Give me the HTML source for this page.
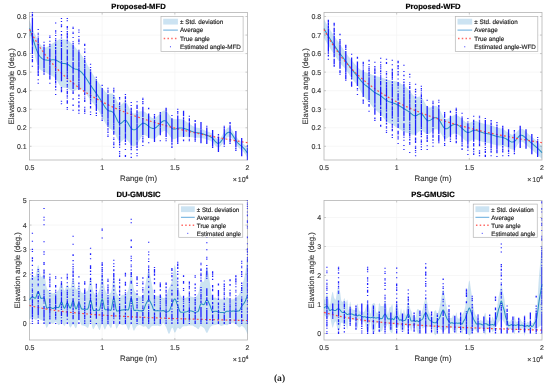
<!DOCTYPE html>
<html lang="en"><head><meta charset="utf-8"><title>Elevation angle estimation</title>
<style>html,body{margin:0;padding:0;background:#fff}svg{display:block}</style></head>
<body>
<svg width="550" height="387" viewBox="0 0 550 387" font-family="'Liberation Sans', Arial, Helvetica, sans-serif" shape-rendering="geometricPrecision" text-rendering="geometricPrecision">
<rect width="550" height="387" fill="#fff"/>
<g>
<clipPath id="c1"><rect x="29.1" y="12.1" width="218.65" height="148.3"/></clipPath><path d="M102.17 12.5V160M174.83 12.5V160M29.5 146.31H247.5M29.5 127.77H247.5M29.5 109.23H247.5M29.5 90.68H247.5M29.5 72.14H247.5M29.5 53.59H247.5M29.5 35.05H247.5M29.5 16.51H247.5" stroke="#f3f3f3" stroke-width="0.7" fill="none"/><rect x="29.5" y="12.5" width="218" height="147.5" fill="none" stroke="#b4b4b4" stroke-width="0.8"/><path d="M102.17 160v-2M102.17 12.5v2M174.83 160v-2M174.83 12.5v2M29.5 146.31h2M247.5 146.31h-2M29.5 127.77h2M247.5 127.77h-2M29.5 109.23h2M247.5 109.23h-2M29.5 90.68h2M247.5 90.68h-2M29.5 72.14h2M247.5 72.14h-2M29.5 53.59h2M247.5 53.59h-2M29.5 35.05h2M247.5 35.05h-2M29.5 16.51h2M247.5 16.51h-2" stroke="#b4b4b4" stroke-width="0.7" fill="none"/>
<polygon points="29.5,20.4 30.23,22.26 30.95,24.2 31.68,26.18 32.41,28.19 33.13,30.1 33.86,31.84 34.59,33.45 35.31,34.95 36.04,36.38 36.77,37.78 37.49,39.18 38.22,40.61 38.95,42 39.67,43.23 40.4,44.31 41.13,45.24 41.85,46.02 42.58,46.66 43.31,47.14 44.03,47.47 44.76,47.63 45.49,47.6 46.21,47.41 46.94,47.09 47.67,46.69 48.39,46.22 49.12,45.73 49.85,45.25 50.57,44.77 51.3,44.26 52.03,43.75 52.75,43.25 53.48,42.76 54.21,42.31 54.93,41.89 55.66,41.54 56.39,41.16 57.11,40.68 57.84,40.17 58.57,39.67 59.29,39.25 60.02,38.95 60.75,38.83 61.47,38.94 62.2,39.15 62.93,39.28 63.65,39.37 64.38,39.44 65.11,39.52 65.83,39.63 66.56,39.8 67.29,40.06 68.01,40.44 68.74,40.96 69.47,41.57 70.19,42.25 70.92,42.98 71.65,43.7 72.37,44.41 73.1,45.06 73.83,45.73 74.55,46.5 75.28,47.33 76.01,48.21 76.73,49.12 77.46,50.02 78.19,50.9 78.91,51.74 79.64,52.58 80.37,53.49 81.09,54.46 81.82,55.49 82.55,56.58 83.27,57.71 84,58.88 84.73,60.08 85.45,61.32 86.18,62.59 86.91,63.87 87.63,65.17 88.36,66.46 89.09,67.75 89.81,69.03 90.54,70.28 91.27,71.52 91.99,72.74 92.72,73.94 93.45,75.12 94.17,76.27 94.9,77.4 95.63,78.5 96.35,79.56 97.08,80.58 97.81,81.58 98.53,82.56 99.26,83.53 99.99,84.51 100.71,85.49 101.44,86.5 102.17,87.53 102.89,88.57 103.62,89.58 104.35,90.53 105.07,91.4 105.8,92.17 106.53,92.81 107.25,93.32 107.98,93.65 108.71,93.77 109.43,93.72 110.16,93.58 110.89,93.44 111.61,93.4 112.34,93.55 113.07,93.97 113.79,94.76 114.52,95.92 115.25,97.32 115.97,98.85 116.7,100.41 117.43,101.88 118.15,103.17 118.88,104.17 119.61,104.78 120.33,104.91 121.06,104.67 121.79,104.16 122.51,103.5 123.24,102.82 123.97,102.23 124.69,101.85 125.42,101.81 126.15,102.24 126.87,103.14 127.6,104.39 128.33,105.86 129.05,107.44 129.78,109.01 130.51,110.45 131.23,111.64 131.96,112.51 132.69,113.1 133.41,113.45 134.14,113.58 134.87,113.53 135.59,113.32 136.32,112.99 137.05,112.56 137.77,112.16 138.5,111.84 139.23,111.61 139.95,111.45 140.68,111.34 141.41,111.28 142.13,111.26 142.86,111.27 143.59,111.37 144.31,111.63 145.04,112.03 145.77,112.54 146.49,113.13 147.22,113.78 147.95,114.47 148.67,115.16 149.4,115.84 150.13,116.49 150.85,117.07 151.58,117.57 152.31,117.95 153.03,118.19 153.76,118.26 154.49,118.13 155.21,117.81 155.94,117.35 156.67,116.77 157.39,116.11 158.12,115.39 158.85,114.63 159.57,113.87 160.3,113.12 161.03,112.42 161.75,111.79 162.48,111.27 163.21,110.87 163.93,110.62 164.66,110.56 165.39,110.7 166.11,111.08 166.84,111.71 167.57,112.53 168.29,113.5 169.02,114.53 169.75,115.57 170.47,116.56 171.2,117.44 171.93,118.13 172.65,118.62 173.38,118.95 174.11,119.15 174.83,119.24 175.56,119.25 176.29,119.21 177.01,119.13 177.74,119.05 178.47,119.01 179.19,119 179.92,119.04 180.65,119.13 181.37,119.27 182.1,119.45 182.83,119.69 183.55,119.98 184.28,120.34 185.01,120.76 185.73,121.24 186.46,121.75 187.19,122.29 187.91,122.83 188.64,123.37 189.37,123.88 190.09,124.37 190.82,124.86 191.55,125.33 192.27,125.78 193,126.2 193.73,126.59 194.45,126.93 195.18,127.21 195.91,127.45 196.63,127.64 197.36,127.81 198.09,127.97 198.81,128.12 199.54,128.29 200.27,128.47 200.99,128.7 201.72,128.97 202.45,129.29 203.17,129.63 203.9,129.99 204.63,130.35 205.35,130.7 206.08,131.02 206.81,131.29 207.53,131.54 208.26,131.77 208.99,132.03 209.71,132.32 210.44,132.67 211.17,133.1 211.89,133.62 212.62,134.26 213.35,135.02 214.07,135.86 214.8,136.72 215.53,137.54 216.25,138.27 216.98,138.83 217.71,139.19 218.43,139.27 219.16,139.01 219.89,138.44 220.61,137.61 221.34,136.59 222.07,135.44 222.79,134.22 223.52,133 224.25,131.85 224.97,130.79 225.7,129.83 226.43,129 227.15,128.33 227.88,127.85 228.61,127.57 229.33,127.54 230.06,127.77 230.79,128.31 231.51,129.13 232.24,130.17 232.97,131.36 233.69,132.63 234.42,133.92 235.15,135.17 235.87,136.3 236.6,137.3 237.33,138.18 238.05,138.98 238.78,139.7 239.51,140.37 240.23,141.01 240.96,141.62 241.69,142.23 242.41,142.85 243.14,143.49 243.87,144.15 244.59,144.87 245.32,145.67 246.05,146.56 246.77,147.57 247.5,148.73 247.5,158 246.77,156.64 246.05,155.42 245.32,154.34 244.59,153.38 243.87,152.52 243.14,151.74 242.41,151.04 241.69,150.39 240.96,149.78 240.23,149.16 239.51,148.53 238.78,147.86 238.05,147.14 237.33,146.34 236.6,145.45 235.87,144.46 235.15,143.38 234.42,142.26 233.69,141.14 232.97,140.07 232.24,139.09 231.51,138.23 230.79,137.53 230.06,137.04 229.33,136.81 228.61,136.84 227.88,137.12 227.15,137.6 226.43,138.28 225.7,139.1 224.97,140.06 224.25,141.12 223.52,142.23 222.79,143.32 222.07,144.36 221.34,145.3 220.61,146.12 219.89,146.77 219.16,147.22 218.43,147.43 217.71,147.35 216.98,146.99 216.25,146.43 215.53,145.7 214.8,144.88 214.07,144.02 213.35,143.18 212.62,142.42 211.89,141.78 211.17,141.26 210.44,140.83 209.71,140.48 208.99,140.19 208.26,139.93 207.53,139.69 206.81,139.45 206.08,139.21 205.35,138.98 204.63,138.77 203.9,138.57 203.17,138.39 202.45,138.23 201.72,138.09 200.99,137.97 200.27,137.88 199.54,137.81 198.81,137.77 198.09,137.74 197.36,137.71 196.63,137.69 195.91,137.65 195.18,137.6 194.45,137.53 193.73,137.46 193,137.37 192.27,137.28 191.55,137.18 190.82,137.08 190.09,136.97 189.37,136.86 188.64,136.76 187.91,136.71 187.19,136.67 186.46,136.66 185.73,136.66 185.01,136.67 184.28,136.67 183.55,136.67 182.83,136.67 182.1,136.69 181.37,136.74 180.65,136.83 179.92,136.95 179.19,137.11 178.47,137.33 177.74,137.6 177.01,137.93 176.29,138.3 175.56,138.65 174.83,138.94 174.11,139.12 173.38,139.15 172.65,138.96 171.93,138.53 171.2,137.83 170.47,136.96 169.75,135.97 169.02,134.93 168.29,133.89 167.57,132.93 166.84,132.11 166.11,131.48 165.39,131.1 164.66,130.96 163.93,131.02 163.21,131.27 162.48,131.67 161.75,132.19 161.03,132.82 160.3,133.52 159.57,134.26 158.85,135.03 158.12,135.79 157.39,136.51 156.67,137.17 155.94,137.75 155.21,138.21 154.49,138.53 153.76,138.71 153.03,138.79 152.31,138.78 151.58,138.67 150.85,138.47 150.13,138.19 149.4,137.84 148.67,137.41 147.95,136.94 147.22,136.45 146.49,135.98 145.77,135.58 145.04,135.28 144.31,135.12 143.59,135.14 142.86,135.37 142.13,135.93 141.41,136.83 140.68,137.97 139.95,139.26 139.23,140.61 138.5,141.93 137.77,143.12 137.05,144.09 136.32,144.84 135.59,145.43 134.87,145.86 134.14,146.1 133.41,146.14 132.69,145.99 131.96,145.61 131.23,145.02 130.51,144.22 129.78,143.32 129.05,142.36 128.33,141.4 127.6,140.52 126.87,139.77 126.15,139.2 125.42,138.9 124.69,138.94 123.97,139.32 123.24,139.91 122.51,140.59 121.79,141.24 121.06,141.76 120.33,142 119.61,141.86 118.88,141.26 118.15,140.26 117.43,138.97 116.7,137.49 115.97,135.94 115.25,134.41 114.52,133.01 113.79,131.85 113.07,130.95 112.34,130.23 111.61,129.64 110.89,129.14 110.16,128.67 109.43,128.2 108.71,127.67 107.98,127.03 107.25,126.22 106.53,125.21 105.8,124.05 105.07,122.77 104.35,121.41 103.62,120 102.89,118.59 102.17,117.2 101.44,115.85 100.71,114.53 99.99,113.23 99.26,111.97 98.53,110.75 97.81,109.57 97.08,108.44 96.35,107.37 95.63,106.36 94.9,105.41 94.17,104.49 93.45,103.59 92.72,102.71 91.99,101.81 91.27,100.9 90.54,99.95 89.81,98.97 89.09,97.98 88.36,96.98 87.63,95.98 86.91,95.01 86.18,94.08 85.45,93.18 84.73,92.35 84,91.59 83.27,90.91 82.55,90.31 81.82,89.81 81.09,89.41 80.37,89.1 79.64,88.91 78.91,88.83 78.19,88.92 77.46,89.21 76.73,89.62 76.01,90.09 75.28,90.53 74.55,90.89 73.83,91.09 73.1,91.05 72.37,90.84 71.65,90.54 70.92,90.19 70.19,89.8 69.47,89.39 68.74,88.99 68.01,88.61 67.29,88.27 66.56,88.01 65.83,87.84 65.11,87.73 64.38,87.65 63.65,87.58 62.93,87.49 62.2,87.36 61.47,87.16 60.75,86.69 60.02,85.85 59.29,84.73 58.57,83.44 57.84,82.08 57.11,80.76 56.39,79.57 55.66,78.63 54.93,77.9 54.21,77.28 53.48,76.76 52.75,76.31 52.03,75.92 51.3,75.57 50.57,75.24 49.85,74.92 49.12,74.56 48.39,74.13 47.67,73.67 46.94,73.19 46.21,72.72 45.49,72.28 44.76,71.89 44.03,71.58 43.31,71.33 42.58,71.05 41.85,70.72 41.13,70.28 40.4,69.68 39.67,68.9 38.95,67.88 38.22,66.57 37.49,64.86 36.77,62.7 36.04,60.2 35.31,57.45 34.59,54.55 33.86,51.61 33.13,48.72 32.41,45.99 31.68,43.4 30.95,40.91 30.23,38.54 29.5,36.35" fill="#0072bd" fill-opacity="0.2"/>
<polyline points="29.5,28.37 30.23,30.4 30.95,32.55 31.68,34.79 32.41,37.09 33.13,39.41 33.86,41.73 34.59,44 35.31,46.2 36.04,48.29 36.77,50.24 37.49,52.02 38.22,53.59 38.95,54.94 39.67,56.06 40.4,57 41.13,57.76 41.85,58.37 42.58,58.85 43.31,59.23 44.03,59.53 44.76,59.76 45.49,59.94 46.21,60.06 46.94,60.14 47.67,60.18 48.39,60.18 49.12,60.14 49.85,60.08 50.57,60 51.3,59.92 52.03,59.84 52.75,59.78 53.48,59.76 54.21,59.79 54.93,59.9 55.66,60.08 56.39,60.36 57.11,60.72 57.84,61.12 58.57,61.56 59.29,61.99 60.02,62.4 60.75,62.76 61.47,63.05 62.2,63.25 62.93,63.39 63.65,63.47 64.38,63.54 65.11,63.62 65.83,63.73 66.56,63.91 67.29,64.16 68.01,64.53 68.74,64.97 69.47,65.48 70.19,66.03 70.92,66.58 71.65,67.12 72.37,67.62 73.1,68.06 73.83,68.41 74.55,68.69 75.28,68.93 76.01,69.15 76.73,69.37 77.46,69.62 78.19,69.91 78.91,70.28 79.64,70.74 80.37,71.3 81.09,71.94 81.82,72.65 82.55,73.45 83.27,74.31 84,75.23 84.73,76.22 85.45,77.25 86.18,78.33 86.91,79.44 87.63,80.58 88.36,81.72 89.09,82.87 89.81,84 90.54,85.12 91.27,86.21 91.99,87.27 92.72,88.32 93.45,89.36 94.17,90.38 94.9,91.4 95.63,92.43 96.35,93.46 97.08,94.51 97.81,95.57 98.53,96.65 99.26,97.75 99.99,98.87 100.71,100.01 101.44,101.17 102.17,102.36 102.89,103.58 103.62,104.79 104.35,105.97 105.07,107.08 105.8,108.11 106.53,109.01 107.25,109.77 107.98,110.34 108.71,110.72 109.43,110.96 110.16,111.12 110.89,111.29 111.61,111.52 112.34,111.89 113.07,112.46 113.79,113.31 114.52,114.47 115.25,115.86 115.97,117.39 116.7,118.95 117.43,120.43 118.15,121.72 118.88,122.72 119.61,123.32 120.33,123.46 121.06,123.21 121.79,122.7 122.51,122.05 123.24,121.36 123.97,120.77 124.69,120.4 125.42,120.35 126.15,120.72 126.87,121.45 127.6,122.45 128.33,123.63 129.05,124.9 129.78,126.16 130.51,127.34 131.23,128.33 131.96,129.06 132.69,129.54 133.41,129.8 134.14,129.84 134.87,129.69 135.59,129.38 136.32,128.91 137.05,128.33 137.77,127.64 138.5,126.89 139.23,126.11 139.95,125.35 140.68,124.66 141.41,124.06 142.13,123.6 142.86,123.32 143.59,123.25 144.31,123.37 145.04,123.65 145.77,124.06 146.49,124.55 147.22,125.11 147.95,125.7 148.67,126.29 149.4,126.84 150.13,127.34 150.85,127.77 151.58,128.12 152.31,128.36 153.03,128.49 153.76,128.48 154.49,128.33 155.21,128.01 155.94,127.55 156.67,126.97 157.39,126.31 158.12,125.59 158.85,124.83 159.57,124.07 160.3,123.32 161.03,122.62 161.75,121.99 162.48,121.47 163.21,121.07 163.93,120.82 164.66,120.76 165.39,120.9 166.11,121.28 166.84,121.91 167.57,122.73 168.29,123.69 169.02,124.73 169.75,125.77 170.47,126.76 171.2,127.63 171.93,128.33 172.65,128.79 173.38,129.05 174.11,129.14 174.83,129.09 175.56,128.95 176.29,128.75 177.01,128.53 177.74,128.33 178.47,128.17 179.19,128.06 179.92,128 180.65,127.98 181.37,128.01 182.1,128.07 182.83,128.18 183.55,128.33 184.28,128.51 185.01,128.71 185.73,128.95 186.46,129.21 187.19,129.48 187.91,129.77 188.64,130.07 189.37,130.37 190.09,130.67 190.82,130.97 191.55,131.25 192.27,131.53 193,131.79 193.73,132.02 194.45,132.23 195.18,132.41 195.91,132.55 196.63,132.66 197.36,132.76 198.09,132.85 198.81,132.95 199.54,133.05 200.27,133.18 200.99,133.33 201.72,133.53 202.45,133.76 203.17,134.01 203.9,134.28 204.63,134.56 205.35,134.84 206.08,135.11 206.81,135.37 207.53,135.61 208.26,135.85 208.99,136.11 209.71,136.4 210.44,136.75 211.17,137.18 211.89,137.7 212.62,138.34 213.35,139.1 214.07,139.94 214.8,140.8 215.53,141.62 216.25,142.35 216.98,142.91 217.71,143.27 218.43,143.35 219.16,143.12 219.89,142.6 220.61,141.86 221.34,140.94 222.07,139.9 222.79,138.77 223.52,137.62 224.25,136.49 224.97,135.43 225.7,134.47 226.43,133.64 227.15,132.97 227.88,132.48 228.61,132.21 229.33,132.17 230.06,132.41 230.79,132.92 231.51,133.68 232.24,134.63 232.97,135.72 233.69,136.89 234.42,138.09 235.15,139.27 235.87,140.38 236.6,141.37 237.33,142.26 238.05,143.06 238.78,143.78 239.51,144.45 240.23,145.09 240.96,145.7 241.69,146.31 242.41,146.95 243.14,147.61 243.87,148.33 244.59,149.13 245.32,150.01 246.05,150.99 246.77,152.11 247.5,153.36" fill="none" stroke="#2a90c2" stroke-width="1.05" stroke-linejoin="round"/>
<polyline points="29.5,29.43 33.13,36.19 36.77,42.34 40.4,47.97 44.03,53.15 47.67,57.92 51.3,62.34 54.93,66.45 58.57,70.27 62.2,73.84 65.83,77.18 69.47,80.32 73.1,83.26 76.73,86.05 80.37,88.67 84,91.16 87.63,93.51 91.27,95.75 94.9,97.87 98.53,99.9 102.17,101.83 105.8,103.68 109.43,105.44 113.07,107.14 116.7,108.76 120.33,110.31 123.97,111.81 127.6,113.24 131.23,114.63 134.87,115.96 138.5,117.25 142.13,118.49 145.77,119.7 149.4,120.86 153.03,121.98 156.67,123.07 160.3,124.13 163.93,125.15 167.57,126.15 171.2,127.11 174.83,128.05 178.47,128.96 182.1,129.85 185.73,130.72 189.37,131.56 193,132.38 196.63,133.19 200.27,133.97 203.9,134.73 207.53,135.48 211.17,136.21 214.8,136.92 218.43,137.62 222.07,138.31 225.7,138.98 229.33,139.63 232.97,140.27 236.6,140.9 240.23,141.52 243.87,142.13 247.5,142.72" fill="none" stroke="#ff4d47" stroke-width="1.2" stroke-dasharray="1.8 2.3"/>
<path d="M32.41 12.25v1M32.41 14v2.5M32.41 17.5v14.75M32.41 32.75v13M32.41 46.25v7.75M32.41 55.25v1.25M32.41 57v1M32.41 59v3.25M32.41 65.75v1M38.22 29v1M38.22 32.75v1M38.22 34.25v1M38.22 36.5v1M38.22 38v5M38.22 43.5v21.5M38.22 65.25v4.75M38.22 70.25v3M38.22 73.5v2.5M38.22 79.25v1M38.22 82.75v1M44.03 41.75v1M44.03 44.5v1.5M44.03 46.5v21.75M44.03 68.75v1M44.03 70.25v1.75M44.03 72.5v1M44.03 73.75v1M49.85 35.5v1M49.85 37v1M49.85 40.75v1M49.85 43.75v1.75M49.85 46v1.25M49.85 48.5v8.75M49.85 57.5v8.25M49.85 66v9.5M49.85 75.75v3.75M49.85 82.75v1M55.66 22.5v1M55.66 30.25v1.5M55.66 32.5v1M55.66 35v1M55.66 38.25v1M55.66 39.75v1.25M55.66 41.5v1M55.66 43.5v2.5M55.66 47v2M55.66 49.75v5M55.66 55.25v11.75M55.66 67.5v4M55.66 72v1M55.66 73.25v7.25M55.66 81v2M55.66 83.5v1M55.66 85.75v2M55.66 89.25v1M55.66 94v1M61.47 18v1M61.47 21v1M61.47 24.25v1M61.47 25.5v1.75M61.47 31v1M61.47 34v1M61.47 35.25v1M61.47 37.5v1M61.47 40v1M61.47 41.5v3M61.47 44.75v2.25M61.47 48v12M61.47 60.5v2M61.47 62.75v18.5M61.47 87v1M61.47 88.25v1M61.47 89.5v2.75M61.47 100.75v1M61.47 103.25v1M67.29 18v1M67.29 20.25v1M67.29 26v2M67.29 28.5v1M67.29 31v1M67.29 32.5v2.5M67.29 35.25v2.75M67.29 38.5v1M67.29 40v1.5M67.29 42.5v1M67.29 46.25v1M67.29 49.5v5M67.29 55.5v5.25M67.29 61.5v10.25M67.29 72v1M67.29 73.25v1.5M67.29 75v2.5M67.29 77.75v1.25M67.29 80.5v1.5M67.29 84v1.75M67.29 86.25v1.25M67.29 89.25v1M67.29 91v3.25M67.29 95.25v1.5M67.29 97.5v1M67.29 100.25v3.5M67.29 107v1M67.29 108.75v1M73.1 26.75v1M73.1 28v1M73.1 31.75v1M73.1 33v1M73.1 37v1M73.1 41.25v1M73.1 43v1.5M73.1 45v4.25M73.1 49.5v8.25M73.1 58v2.75M73.1 62v11.5M73.1 74.75v6.5M73.1 81.75v7.25M73.1 90.5v1.25M73.1 92v2M73.1 98.25v1.5M73.1 104.5v1.5M73.1 109.75v1M78.91 29.5v1M78.91 31.75v1M78.91 36v1M78.91 38.75v1M78.91 40v2.25M78.91 43.25v1M78.91 49.75v1M78.91 51.25v10M78.91 61.5v6M78.91 67.75v10.75M78.91 78.75v2.25M78.91 81.5v2.25M78.91 84v6M78.91 94.5v2M78.91 98v1M78.91 101.25v2M78.91 104.75v2.75M78.91 109.5v1.75M78.91 112.75v1M84.73 43.75v2.25M84.73 48.5v1M84.73 50.75v1M84.73 52v1M84.73 56v1M84.73 57.75v1.75M84.73 60v3.25M84.73 64v2.75M84.73 67v1.5M84.73 69v22.5M84.73 92.25v3M84.73 96.5v1M84.73 98.25v1M84.73 99.75v2.25M84.73 106.75v1M84.73 108.75v1M84.73 110.25v1.75M84.73 112.75v1M90.54 63.75v1M90.54 67v1M90.54 69.25v1M90.54 70.5v1M90.54 72v12M90.54 84.25v10M90.54 94.5v3.5M90.54 98.5v2.25M90.54 101.25v1M90.54 102.5v1.75M90.54 106v2.5M90.54 111.5v1M90.54 114v1M96.35 76.75v1M96.35 79.25v1M96.35 80.75v16.25M96.35 97.5v5.5M96.35 103.25v7.75M96.35 112.5v1.5M96.35 115v1M102.17 84.75v1.25M102.17 88v26.25M102.17 114.75v1M102.17 116.25v1M102.17 118.5v1M102.17 120v1M107.98 87.75v1M107.98 89.75v1M107.98 91.25v1.5M107.98 94.25v24.5M107.98 119.25v1.75M107.98 121.25v4.25M107.98 125.75v1M107.98 128.25v1.5M107.98 130.5v1M107.98 132v1M107.98 134.5v1M107.98 136v1M113.79 87.75v1M113.79 89.5v1.75M113.79 91.5v1M113.79 95.25v1M113.79 97v1.75M113.79 99.75v3.25M113.79 103.75v19.5M113.79 123.5v2.25M113.79 126v3M113.79 129.25v1M113.79 131v3.75M113.79 137.5v1M113.79 139v1M113.79 141.75v1M113.79 143.25v2M113.79 146.75v1.25M119.61 97v1M119.61 98.25v1.25M119.61 102.25v3M119.61 106v1M119.61 107.5v1.5M119.61 109.75v14M119.61 124v1M119.61 125.25v1M119.61 126.75v9M119.61 136v4.75M119.61 141.25v2.25M119.61 144v1.5M119.61 146.75v1M119.61 151v1M119.61 152.75v1M119.61 154.75v1M119.61 156v1M125.42 94v1M125.42 96.25v3M125.42 100.25v2M125.42 103.25v5.5M125.42 109v3M125.42 112.25v11M125.42 123.5v9.25M125.42 133.25v5.5M125.42 139.25v2.75M125.42 143.25v1.5M125.42 149v1M125.42 155v2M131.23 102v1M131.23 105v1M131.23 107.75v3M131.23 111v4.5M131.23 116v29.75M131.23 146.5v2M131.23 149v1.25M131.23 153.25v1M131.23 156.75v1.25M137.05 101.25v1M137.05 104.75v4.25M137.05 110.25v3.25M137.05 113.75v10M137.05 124v16.5M137.05 140.75v1M137.05 142v3.5M137.05 145.75v2.25M137.05 149v1.5M137.05 153v1M137.05 155.25v1M142.86 97.75v1M142.86 99v1M142.86 101v1M142.86 102.5v1.75M142.86 106.75v10.5M142.86 118v17M142.86 135.75v1M142.86 137.5v2M142.86 140.25v2.25M142.86 145v1M148.67 107.75v1.5M148.67 113.5v24.5M148.67 142.25v1M154.49 114v1.25M154.49 115.75v2.25M154.49 118.25v1M154.49 120v22M160.3 112v1M160.3 113.25v1M160.3 114.5v12.5M160.3 127.25v8M160.3 140.25v1M166.11 107.75v4M166.11 112v9.5M166.11 121.75v15.25M166.11 138.25v1M166.11 140.25v1M171.93 115v1M171.93 118.25v24.25M171.93 143v1.75M171.93 145.75v1M171.93 147v1M177.74 108.75v1M177.74 111v1.75M177.74 113.25v1M177.74 115.5v26.5M177.74 142.25v1.75M183.55 110.75v5.25M183.55 116.75v1M183.55 118v1.25M183.55 119.5v17.5M183.55 139.5v1.75M189.37 115.75v1M189.37 118.25v3.25M189.37 122.25v15M189.37 138.75v1M189.37 140.25v1M195.18 120v2M195.18 123.25v15M195.18 138.5v2M195.18 140.75v1M200.99 122v7.5M200.99 129.75v13.5M206.81 125.75v1M206.81 127.5v16.5M212.62 130v16.75M212.62 147v1M218.43 134v1.5M218.43 136.5v15.5M224.25 125.75v1M224.25 127v1M224.25 128.25v16.5M224.25 145.75v1M230.06 122v2.25M230.06 125.25v17.25M230.06 143v1M235.87 131v16.25M235.87 147.75v1.75M235.87 150v1M241.69 138v18.25M247.5 145v2M247.5 147.5v12.75" stroke="#0c0cff" stroke-width="1.3" fill="none" opacity="0.92" clip-path="url(#c1)"/>
<g font-size="7" fill="#363636" stroke="#363636" stroke-width="0.13"><text x="26.7" y="148.81" text-anchor="end">0.1</text><text x="26.7" y="130.27" text-anchor="end">0.2</text><text x="26.7" y="111.73" text-anchor="end">0.3</text><text x="26.7" y="93.18" text-anchor="end">0.4</text><text x="26.7" y="74.64" text-anchor="end">0.5</text><text x="26.7" y="56.09" text-anchor="end">0.6</text><text x="26.7" y="37.55" text-anchor="end">0.7</text><text x="26.7" y="19.01" text-anchor="end">0.8</text><text x="29.5" y="170.2" text-anchor="middle">0.5</text><text x="102.17" y="170.2" text-anchor="middle">1</text><text x="174.83" y="170.2" text-anchor="middle">1.5</text><text x="247.5" y="170.2" text-anchor="middle">2</text><text x="248.5" y="181.6" text-anchor="end">×<tspan dx="0.9">10</tspan><tspan dy="-3" font-size="5.2">4</tspan></text></g><g font-size="7.85" fill="#363636" stroke="#363636" stroke-width="0.13" text-anchor="middle"><text x="138.5" y="181">Range (m)</text><text transform="translate(13.7 86.25) rotate(-90)">Elavation angle (deg.)</text></g><text x="138.5" y="9.3" font-size="7.65" font-weight="bold" fill="#000" stroke="#000" stroke-width="0.2" text-anchor="middle">Proposed-MFD</text><rect x="161" y="16.6" width="82.1" height="34.9" fill="#fff" stroke="#b4b4b4" stroke-width="0.7"/><rect x="163.2" y="18.75" width="14.7" height="5.8" fill="#cce3f2"/><path d="M163.2 30.1h14.7" stroke="#5aa5da" stroke-width="0.95"/><path d="M163.7 38.45h14.7" stroke="#ff6b66" stroke-width="1.4" stroke-dasharray="1.5 2.25"/><rect x="169.95" y="46.35" width="1" height="0.9" fill="#22f"/><g font-size="6.3" fill="#242424" stroke="#242424" stroke-width="0.16"><text transform="translate(180 24) scale(1.0 1)">± Std. deviation</text><text transform="translate(180 32.35) scale(1.0 1)">Average</text><text transform="translate(180 40.7) scale(1.0 1)">True angle</text><text transform="translate(180 49.05) scale(1.0 1)">Estimated angle-MFD</text></g>
</g>
<g>
<clipPath id="c2"><rect x="323.6" y="12.1" width="218.65" height="148.3"/></clipPath><path d="M396.67 12.5V160M469.33 12.5V160M324 146.31H542M324 127.77H542M324 109.23H542M324 90.68H542M324 72.14H542M324 53.59H542M324 35.05H542M324 16.51H542" stroke="#f3f3f3" stroke-width="0.7" fill="none"/><rect x="324" y="12.5" width="218" height="147.5" fill="none" stroke="#b4b4b4" stroke-width="0.8"/><path d="M396.67 160v-2M396.67 12.5v2M469.33 160v-2M469.33 12.5v2M324 146.31h2M542 146.31h-2M324 127.77h2M542 127.77h-2M324 109.23h2M542 109.23h-2M324 90.68h2M542 90.68h-2M324 72.14h2M542 72.14h-2M324 53.59h2M542 53.59h-2M324 35.05h2M542 35.05h-2M324 16.51h2M542 16.51h-2" stroke="#b4b4b4" stroke-width="0.7" fill="none"/>
<polygon points="324,19.29 324.73,20.62 325.45,21.92 326.18,23.2 326.91,24.45 327.63,25.68 328.36,26.89 329.09,28.08 329.81,29.25 330.54,30.4 331.27,31.54 331.99,32.67 332.72,33.78 333.45,34.88 334.17,35.98 334.9,37.06 335.63,38.14 336.35,39.21 337.08,40.26 337.81,41.3 338.53,42.33 339.26,43.33 339.99,44.32 340.71,45.33 341.44,46.39 342.17,47.48 342.89,48.58 343.62,49.69 344.35,50.78 345.07,51.84 345.8,52.85 346.53,53.83 347.25,54.79 347.98,55.73 348.71,56.66 349.43,57.58 350.16,58.49 350.89,59.38 351.61,60.27 352.34,61.14 353.07,61.99 353.79,62.83 354.52,63.66 355.25,64.49 355.97,65.31 356.7,66.12 357.43,66.95 358.15,67.72 358.88,68.39 359.61,68.98 360.33,69.5 361.06,69.97 361.79,70.4 362.51,70.81 363.24,71.21 363.97,71.59 364.69,71.91 365.42,72.19 366.15,72.45 366.87,72.69 367.6,72.93 368.33,73.17 369.05,73.44 369.78,73.73 370.51,74.04 371.23,74.36 371.96,74.69 372.69,75.01 373.41,75.32 374.14,75.6 374.87,75.85 375.59,76.06 376.32,76.25 377.05,76.42 377.77,76.59 378.5,76.75 379.23,76.92 379.95,77.11 380.68,77.33 381.41,77.56 382.13,77.8 382.86,78.04 383.59,78.29 384.31,78.55 385.04,78.81 385.77,79.08 386.49,79.37 387.22,79.65 387.95,79.89 388.67,80.11 389.4,80.3 390.13,80.47 390.85,80.61 391.58,80.74 392.31,80.85 393.03,80.94 393.76,81 394.49,81.06 395.21,81.13 395.94,81.24 396.67,81.4 397.39,81.63 398.12,81.97 398.85,82.37 399.57,82.79 400.3,83.23 401.03,83.68 401.75,84.13 402.48,84.59 403.21,85.05 403.93,85.49 404.66,85.97 405.39,86.53 406.11,87.16 406.84,87.86 407.57,88.6 408.29,89.39 409.02,90.21 409.75,91.05 410.47,91.95 411.2,92.9 411.93,93.86 412.65,94.78 413.38,95.61 414.11,96.32 414.83,96.86 415.56,97.17 416.29,97.25 417.01,97.15 417.74,96.96 418.47,96.74 419.19,96.58 419.92,96.54 420.65,96.72 421.37,97.17 422.1,97.97 422.83,99.05 423.55,100.32 424.28,101.7 425.01,103.09 425.73,104.4 426.46,105.55 427.19,106.44 427.91,107.03 428.64,107.37 429.37,107.49 430.09,107.44 430.82,107.27 431.55,107.02 432.27,106.73 433,106.44 433.73,106.21 434.45,106.06 435.18,106.01 435.91,106.1 436.63,106.35 437.36,106.78 438.09,107.42 438.81,108.3 439.54,109.42 440.27,110.71 440.99,112.11 441.72,113.54 442.45,114.93 443.17,116.21 443.9,117.3 444.63,118.13 445.35,118.65 446.08,118.91 446.81,118.95 447.53,118.79 448.26,118.48 448.99,118.05 449.71,117.55 450.44,117.01 451.17,116.5 451.89,116.06 452.62,115.68 453.35,115.39 454.07,115.19 454.8,115.07 455.53,115.06 456.25,115.16 456.98,115.37 457.71,115.68 458.43,116.08 459.16,116.57 459.89,117.12 460.61,117.72 461.34,118.37 462.07,119.05 462.79,119.75 463.52,120.45 464.25,121.12 464.97,121.73 465.7,122.26 466.43,122.69 467.15,122.99 467.88,123.13 468.61,123.11 469.33,122.95 470.06,122.68 470.79,122.35 471.51,121.99 472.24,121.63 472.97,121.32 473.69,121.09 474.42,120.98 475.15,120.97 475.87,121.04 476.6,121.19 477.33,121.4 478.05,121.65 478.78,121.92 479.51,122.21 480.23,122.49 480.96,122.76 481.69,123.02 482.41,123.26 483.14,123.49 483.87,123.7 484.59,123.89 485.32,124.06 486.05,124.2 486.77,124.33 487.5,124.44 488.23,124.56 488.95,124.68 489.68,124.82 490.41,124.98 491.13,125.17 491.86,125.42 492.59,125.71 493.31,126.03 494.04,126.37 494.77,126.7 495.49,127.03 496.22,127.33 496.95,127.58 497.67,127.79 498.4,127.96 499.13,128.11 499.85,128.26 500.58,128.41 501.31,128.59 502.03,128.8 502.76,129.07 503.49,129.41 504.21,129.84 504.94,130.33 505.67,130.86 506.39,131.41 507.12,131.95 507.85,132.48 508.57,132.96 509.3,133.41 510.03,133.83 510.75,134.2 511.48,134.47 512.21,134.63 512.93,134.63 513.66,134.46 514.39,134.08 515.11,133.51 515.84,132.83 516.57,132.09 517.29,131.32 518.02,130.58 518.75,129.89 519.47,129.31 520.2,128.88 520.93,128.67 521.65,128.71 522.38,128.94 523.11,129.34 523.83,129.87 524.56,130.49 525.29,131.16 526.01,131.85 526.74,132.52 527.47,133.17 528.19,133.81 528.92,134.43 529.65,135.05 530.37,135.65 531.1,136.26 531.83,136.86 532.55,137.46 533.28,138.07 534.01,138.68 534.73,139.3 535.46,139.93 536.19,140.56 536.91,141.21 537.64,141.86 538.37,142.53 539.09,143.22 539.82,143.92 540.55,144.64 541.27,145.37 542,146.13 542,159.11 541.27,158.35 540.55,157.62 539.82,156.9 539.09,156.2 538.37,155.52 537.64,154.84 536.91,154.19 536.19,153.54 535.46,152.91 534.73,152.28 534.01,151.66 533.28,151.05 532.55,150.44 531.83,149.84 531.1,149.24 530.37,148.63 529.65,148.03 528.92,147.41 528.19,146.79 527.47,146.16 526.74,145.5 526.01,144.83 525.29,144.14 524.56,143.47 523.83,142.85 523.11,142.32 522.38,141.92 521.65,141.69 520.93,141.66 520.2,141.86 519.47,142.37 518.75,143.16 518.02,144.14 517.29,145.23 516.57,146.34 515.84,147.38 515.11,148.26 514.39,148.91 513.66,149.29 512.93,149.47 512.21,149.46 511.48,149.31 510.75,149.03 510.03,148.67 509.3,148.25 508.57,147.8 507.85,147.38 507.12,147.01 506.39,146.7 505.67,146.44 504.94,146.23 504.21,146.04 503.49,145.89 502.76,145.76 502.03,145.66 501.31,145.61 500.58,145.58 499.85,145.57 499.13,145.56 498.4,145.53 497.67,145.48 496.95,145.39 496.22,145.25 495.49,145.08 494.77,144.87 494.04,144.65 493.31,144.41 492.59,144.18 491.86,143.94 491.13,143.72 490.41,143.52 489.68,143.36 488.95,143.22 488.23,143.1 487.5,142.99 486.77,142.87 486.05,142.75 485.32,142.61 484.59,142.44 483.87,142.25 483.14,142.04 482.41,141.81 481.69,141.56 480.96,141.3 480.23,141.03 479.51,140.75 478.78,140.47 478.05,140.19 477.33,139.95 476.6,139.74 475.87,139.59 475.15,139.51 474.42,139.52 473.69,139.64 472.97,139.87 472.24,140.17 471.51,140.53 470.79,140.89 470.06,141.23 469.33,141.49 468.61,141.66 467.88,141.68 467.15,141.53 466.43,141.23 465.7,140.8 464.97,140.27 464.25,139.66 463.52,138.99 462.79,138.3 462.07,137.6 461.34,136.92 460.61,136.27 459.89,135.66 459.16,135.11 458.43,134.63 457.71,134.23 456.98,133.91 456.25,133.7 455.53,133.61 454.8,133.62 454.07,133.73 453.35,133.94 452.62,134.23 451.89,134.6 451.17,135.05 450.44,135.56 449.71,136.15 448.99,136.8 448.26,137.44 447.53,138.03 446.81,138.49 446.08,138.76 445.35,138.8 444.63,138.53 443.9,137.93 443.17,137.07 442.45,136.03 441.72,134.87 440.99,133.67 440.27,132.5 439.54,131.44 438.81,130.55 438.09,129.9 437.36,129.47 436.63,129.24 435.91,129.2 435.18,129.33 434.45,129.61 433.73,130.03 433,130.55 432.27,131.17 431.55,131.85 430.82,132.53 430.09,133.16 429.37,133.7 428.64,134.1 427.91,134.3 427.19,134.26 426.46,133.97 425.73,133.51 425.01,132.93 424.28,132.3 423.55,131.68 422.83,131.14 422.1,130.74 421.37,130.55 420.65,130.62 419.92,130.92 419.19,131.39 418.47,131.97 417.74,132.61 417.01,133.24 416.29,133.81 415.56,134.26 414.83,134.55 414.11,134.7 413.38,134.72 412.65,134.65 411.93,134.49 411.2,134.26 410.47,133.99 409.75,133.7 409.02,133.45 408.29,133.25 407.57,133.08 406.84,132.92 406.11,132.74 405.39,132.52 404.66,132.23 403.93,131.85 403.21,131.41 402.48,130.95 401.75,130.49 401.03,130.04 400.3,129.59 399.57,129.15 398.85,128.73 398.12,128.33 397.39,127.91 396.67,127.45 395.94,126.96 395.21,126.46 394.49,125.96 393.76,125.47 393.03,125.02 392.31,124.62 391.58,124.26 390.85,123.91 390.13,123.56 389.4,123.2 388.67,122.81 387.95,122.37 387.22,121.86 386.49,121.28 385.77,120.59 385.04,119.79 384.31,118.91 383.59,117.98 382.86,117.04 382.13,116.11 381.41,115.22 380.68,114.42 379.95,113.7 379.23,113.03 378.5,112.41 377.77,111.8 377.05,111.2 376.32,110.58 375.59,109.93 374.87,109.23 374.14,108.46 373.41,107.65 372.69,106.8 371.96,105.92 371.23,105.02 370.51,104.12 369.78,103.23 369.05,102.36 368.33,101.52 367.6,100.69 366.87,99.87 366.15,99.04 365.42,98.18 364.69,97.28 363.97,96.33 363.24,95.32 362.51,94.2 361.79,92.97 361.06,91.67 360.33,90.34 359.61,89.02 358.88,87.74 358.15,86.55 357.43,85.49 356.7,84.52 355.97,83.59 355.25,82.68 354.52,81.79 353.79,80.89 353.07,79.98 352.34,79.04 351.61,78.07 350.89,77.05 350.16,75.99 349.43,74.9 348.71,73.8 347.98,72.69 347.25,71.61 346.53,70.55 345.8,69.54 345.07,68.61 344.35,67.76 343.62,66.97 342.89,66.2 342.17,65.43 341.44,64.64 340.71,63.79 339.99,62.87 339.26,61.88 338.53,60.87 337.81,59.85 337.08,58.81 336.35,57.75 335.63,56.69 334.9,55.61 334.17,54.52 333.45,53.43 332.72,52.32 331.99,51.21 331.27,50.09 330.54,48.95 329.81,47.79 329.09,46.62 328.36,45.43 327.63,44.23 326.91,43 326.18,41.74 325.45,40.47 324.73,39.16 324,37.83" fill="#0072bd" fill-opacity="0.2"/>
<polyline points="324,28.56 324.73,29.89 325.45,31.19 326.18,32.47 326.91,33.72 327.63,34.95 328.36,36.16 329.09,37.35 329.81,38.52 330.54,39.67 331.27,40.81 331.99,41.94 332.72,43.05 333.45,44.15 334.17,45.25 334.9,46.34 335.63,47.41 336.35,48.48 337.08,49.53 337.81,50.58 338.53,51.6 339.26,52.61 339.99,53.59 340.71,54.56 341.44,55.51 342.17,56.45 342.89,57.39 343.62,58.33 344.35,59.27 345.07,60.23 345.8,61.2 346.53,62.19 347.25,63.2 347.98,64.21 348.71,65.23 349.43,66.24 350.16,67.24 350.89,68.22 351.61,69.17 352.34,70.09 353.07,70.99 353.79,71.86 354.52,72.73 355.25,73.59 355.97,74.45 356.7,75.32 357.43,76.22 358.15,77.13 358.88,78.06 359.61,79 360.33,79.92 361.06,80.82 361.79,81.68 362.51,82.5 363.24,83.26 363.97,83.96 364.69,84.59 365.42,85.18 366.15,85.74 366.87,86.28 367.6,86.81 368.33,87.35 369.05,87.9 369.78,88.48 370.51,89.08 371.23,89.69 371.96,90.3 372.69,90.9 373.41,91.48 374.14,92.03 374.87,92.54 375.59,92.99 376.32,93.41 377.05,93.81 377.77,94.19 378.5,94.58 379.23,94.98 379.95,95.4 380.68,95.87 381.41,96.39 382.13,96.95 382.86,97.54 383.59,98.14 384.31,98.73 385.04,99.3 385.77,99.84 386.49,100.32 387.22,100.75 387.95,101.13 388.67,101.46 389.4,101.75 390.13,102.01 390.85,102.26 391.58,102.5 392.31,102.74 393.03,102.98 393.76,103.24 394.49,103.51 395.21,103.79 395.94,104.1 396.67,104.42 397.39,104.77 398.12,105.15 398.85,105.55 399.57,105.97 400.3,106.41 401.03,106.86 401.75,107.31 402.48,107.77 403.21,108.23 403.93,108.67 404.66,109.1 405.39,109.53 406.11,109.95 406.84,110.39 407.57,110.84 408.29,111.32 409.02,111.83 409.75,112.38 410.47,112.97 411.2,113.58 411.93,114.17 412.65,114.71 413.38,115.17 414.11,115.51 414.83,115.71 415.56,115.72 416.29,115.53 417.01,115.2 417.74,114.78 418.47,114.36 419.19,113.98 419.92,113.73 420.65,113.67 421.37,113.86 422.1,114.35 422.83,115.09 423.55,116 424.28,117 425.01,118.01 425.73,118.96 426.46,119.76 427.19,120.35 427.91,120.67 428.64,120.73 429.37,120.6 430.09,120.3 430.82,119.9 431.55,119.43 432.27,118.95 433,118.5 433.73,118.12 434.45,117.83 435.18,117.67 435.91,117.65 436.63,117.79 437.36,118.12 438.09,118.66 438.81,119.43 439.54,120.43 440.27,121.61 440.99,122.89 441.72,124.21 442.45,125.48 443.17,126.64 443.9,127.61 444.63,128.33 445.35,128.72 446.08,128.84 446.81,128.72 447.53,128.41 448.26,127.96 448.99,127.42 449.71,126.85 450.44,126.29 451.17,125.77 451.89,125.33 452.62,124.96 453.35,124.66 454.07,124.46 454.8,124.35 455.53,124.34 456.25,124.43 456.98,124.64 457.71,124.95 458.43,125.36 459.16,125.84 459.89,126.39 460.61,126.99 461.34,127.64 462.07,128.33 462.79,129.03 463.52,129.72 464.25,130.39 464.97,131 465.7,131.53 466.43,131.96 467.15,132.26 467.88,132.41 468.61,132.38 469.33,132.22 470.06,131.95 470.79,131.62 471.51,131.26 472.24,130.9 472.97,130.59 473.69,130.37 474.42,130.25 475.15,130.24 475.87,130.32 476.6,130.47 477.33,130.67 478.05,130.92 478.78,131.2 479.51,131.48 480.23,131.76 480.96,132.03 481.69,132.29 482.41,132.54 483.14,132.77 483.87,132.98 484.59,133.17 485.32,133.33 486.05,133.48 486.77,133.6 487.5,133.72 488.23,133.83 488.95,133.95 489.68,134.09 490.41,134.25 491.13,134.45 491.86,134.68 492.59,134.94 493.31,135.22 494.04,135.51 494.77,135.79 495.49,136.05 496.22,136.29 496.95,136.49 497.67,136.64 498.4,136.75 499.13,136.84 499.85,136.91 500.58,137 501.31,137.1 502.03,137.23 502.76,137.41 503.49,137.65 504.21,137.94 504.94,138.28 505.67,138.65 506.39,139.05 507.12,139.48 507.85,139.93 508.57,140.38 509.3,140.83 510.03,141.25 510.75,141.62 511.48,141.89 512.21,142.04 512.93,142.05 513.66,141.88 514.39,141.49 515.11,140.89 515.84,140.11 516.57,139.21 517.29,138.28 518.02,137.36 518.75,136.53 519.47,135.84 520.2,135.37 520.93,135.16 521.65,135.2 522.38,135.43 523.11,135.83 523.83,136.36 524.56,136.98 525.29,137.65 526.01,138.34 526.74,139.01 527.47,139.66 528.19,140.3 528.92,140.92 529.65,141.54 530.37,142.14 531.1,142.75 531.83,143.35 532.55,143.95 533.28,144.56 534.01,145.17 534.73,145.79 535.46,146.42 536.19,147.05 536.91,147.7 537.64,148.35 538.37,149.02 539.09,149.71 539.82,150.41 540.55,151.13 541.27,151.86 542,152.62" fill="none" stroke="#2a90c2" stroke-width="1.05" stroke-linejoin="round"/>
<polyline points="324,29.43 327.63,36.19 331.27,42.34 334.9,47.97 338.53,53.15 342.17,57.92 345.8,62.34 349.43,66.45 353.07,70.27 356.7,73.84 360.33,77.18 363.97,80.32 367.6,83.26 371.23,86.05 374.87,88.67 378.5,91.16 382.13,93.51 385.77,95.75 389.4,97.87 393.03,99.9 396.67,101.83 400.3,103.68 403.93,105.44 407.57,107.14 411.2,108.76 414.83,110.31 418.47,111.81 422.1,113.24 425.73,114.63 429.37,115.96 433,117.25 436.63,118.49 440.27,119.7 443.9,120.86 447.53,121.98 451.17,123.07 454.8,124.13 458.43,125.15 462.07,126.15 465.7,127.11 469.33,128.05 472.97,128.96 476.6,129.85 480.23,130.72 483.87,131.56 487.5,132.38 491.13,133.19 494.77,133.97 498.4,134.73 502.03,135.48 505.67,136.21 509.3,136.92 512.93,137.62 516.57,138.31 520.2,138.98 523.83,139.63 527.47,140.27 531.1,140.9 534.73,141.52 538.37,142.13 542,142.72" fill="none" stroke="#ff4d47" stroke-width="1.2" stroke-dasharray="1.8 2.3"/>
<path d="M328.36 19.75v2.5M328.36 22.5v3M328.36 25.75v2.25M328.36 28.25v23M328.36 51.5v1.25M328.36 53.25v1M328.36 55v1.5M328.36 58.75v1M334.17 22.75v2.25M334.17 25.25v1M334.17 27.75v4.75M334.17 33v2.5M334.17 36v17.5M334.17 53.75v3.5M334.17 58.75v5.25M334.17 64.5v2.25M339.99 33.75v1.5M339.99 39v1.75M339.99 41v3.5M339.99 44.75v17M339.99 62v6.75M339.99 70.25v2.75M339.99 73.75v1M345.8 44.75v3.25M345.8 48.5v1.5M345.8 51v21M345.8 72.25v2M345.8 74.5v4.75M345.8 79.75v1M351.61 53.75v1M351.61 57.5v19.75M351.61 77.5v2M351.61 81.5v5.25M357.43 56.75v2M357.43 61.5v24.5M357.43 88v1M357.43 89.5v1M357.43 94v1M363.24 61.75v2.75M363.24 65.25v1.25M363.24 67.5v1M363.24 69.5v27.5M363.24 99.5v2.25M363.24 102.25v1.5M369.05 59.75v1.75M369.05 64v1M369.05 66.25v1M369.05 67.75v2M369.05 70v1M369.05 71.5v2.75M369.05 74.5v2M369.05 77.25v22.75M369.05 100.75v1.25M369.05 104v2.75M369.05 110.75v1M374.87 61.75v1M374.87 66v1M374.87 67.5v1M374.87 68.75v2.25M374.87 71.25v2.75M374.87 75.5v2.75M374.87 78.5v13M374.87 91.75v12M374.87 104.25v3M374.87 107.75v1M374.87 109v5.75M374.87 117.5v1.75M374.87 120v1M380.68 57.75v1M380.68 61.75v1M380.68 64.25v1M380.68 65.75v1M380.68 67.5v1.25M380.68 69.75v1M380.68 71v1M380.68 72.75v1M380.68 74.75v1M380.68 76.25v1M380.68 77.5v1M380.68 78.75v1M380.68 80.75v4.75M380.68 86.5v18.5M380.68 105.5v1M380.68 107v2.25M380.68 110.25v1.5M380.68 112v4M380.68 117v4M380.68 124.75v2M386.49 58.75v1M386.49 62v2M386.49 71.25v1M386.49 73v1M386.49 74.25v1M386.49 76.75v1M386.49 79.5v1.5M386.49 82v2.5M386.49 84.75v3M386.49 88v8.75M386.49 97.5v5M386.49 102.75v6.75M386.49 109.75v2M386.49 112.75v6M386.49 119.25v1.75M386.49 121.25v1M386.49 123v1.5M386.49 126.25v1M386.49 127.5v1M386.49 130.25v1M386.49 132v1M392.31 59.75v1M392.31 64.25v1M392.31 68.75v2M392.31 71.5v4.5M392.31 76.25v1.75M392.31 78.25v1.5M392.31 81.25v2M392.31 84v2.75M392.31 87v10.5M392.31 98.25v5.25M392.31 103.75v1.75M392.31 106.25v4.25M392.31 110.75v5.25M392.31 116.25v2.25M392.31 120.25v1M392.31 123.75v1.5M392.31 125.5v1M392.31 126.75v1M392.31 128.75v2.5M392.31 134.25v1.5M392.31 137v1M398.12 60.75v2.5M398.12 65v2.5M398.12 68v1.25M398.12 71v1M398.12 72.5v1M398.12 74v1.5M398.12 78.5v1M398.12 82v4.25M398.12 87.5v1M398.12 90.75v1M398.12 93.25v3.75M398.12 97.25v3.25M398.12 102v15.25M398.12 117.75v1M398.12 119.25v1M398.12 120.5v1.5M398.12 123.5v4.5M398.12 130.75v3.75M398.12 135.75v1M398.12 137.25v1M398.12 138.5v1M398.12 143v1M403.93 64.75v1M403.93 71v1M403.93 74.75v1.5M403.93 79v1M403.93 81.5v1.5M403.93 83.75v3M403.93 87.25v1.75M403.93 89.25v4.25M403.93 94v2.75M403.93 97v13.25M403.93 110.5v5.5M403.93 116.25v4.75M403.93 123.25v5.25M403.93 129.25v1M403.93 131.25v4.5M403.93 136.75v1M403.93 139.75v1M403.93 145v1M403.93 149v1M409.75 73.75v1.25M409.75 76.5v1M409.75 82.25v1M409.75 84v1M409.75 86v3M409.75 90.25v3.5M409.75 94v5.25M409.75 99.5v3.75M409.75 103.5v7M409.75 111.25v1M409.75 112.75v7.25M409.75 120.25v1M409.75 122.25v1M409.75 123.75v2.25M409.75 126.25v2.25M409.75 128.75v1.25M409.75 130.75v1M409.75 132.5v3.75M409.75 136.75v1M409.75 138.75v1.75M409.75 142v1.5M409.75 143.75v1M409.75 152v1M415.56 83.75v1M415.56 88.75v1.25M415.56 90.75v1.75M415.56 94.25v1M415.56 96.25v2.25M415.56 100.25v2.5M415.56 104v3.5M415.56 108.5v11.25M415.56 120v15.5M415.56 137.5v3.25M415.56 141v2M415.56 145.75v1M415.56 147.25v1.75M415.56 150v1M415.56 151.75v1M415.56 155.25v1M421.37 85.75v1M421.37 88v1.5M421.37 90.25v1M421.37 92.5v1M421.37 94.25v2.75M421.37 97.5v1.5M421.37 99.75v1M421.37 101.25v2M421.37 104v23.25M421.37 127.5v1.5M421.37 130.25v2.25M421.37 132.75v2.25M421.37 135.75v1.5M421.37 139.5v1M421.37 140.75v2M421.37 143.75v1M421.37 146.25v1.25M421.37 149v1M427.19 99.75v1M427.19 106v28M427.19 135v1.5M427.19 136.75v2.75M427.19 140v2M427.19 145.25v1M427.19 149v1M433 100.75v1M433 102.25v2M433 105.5v4M433 109.75v17.5M433 128v5.75M433 134.5v3.25M433 139.25v1.5M433 142.25v1M433 145.75v1M438.81 99.75v1M438.81 101.75v1M438.81 105v2M438.81 107.25v1M438.81 108.5v25.5M438.81 134.75v7M438.81 142.25v1M444.63 112v1M444.63 113.25v4.5M444.63 119v16.25M444.63 135.5v4.25M444.63 140.25v1M444.63 143v1.5M444.63 145v1M450.44 110.75v2M450.44 115.75v21.25M450.44 137.5v1M450.44 139.25v1M450.44 141v1M456.25 107.75v1M456.25 109v2.25M456.25 112v1M456.25 113.5v21.25M456.25 135v2.25M456.25 137.5v2M456.25 140.75v2.5M462.07 112.75v1M462.07 116.5v1M462.07 117.75v24.5M462.07 142.75v1M462.07 144.5v2M462.07 148.25v1.75M467.88 118v1M467.88 121.5v1M467.88 123.25v21.5M467.88 145.25v3M467.88 149.75v1M467.88 154v1M473.69 115.75v1M473.69 119.75v2.5M473.69 122.5v3M473.69 125.75v16M473.69 143v3.5M473.69 148.25v2M473.69 151.25v1M473.69 153.25v1.75M479.51 115.75v1M479.51 117.25v1M479.51 119.75v1M479.51 121.25v1.25M479.51 122.75v19M479.51 142.25v1M479.51 143.5v2.75M479.51 150.25v1M479.51 151.75v1M479.51 153v1M479.51 155.25v1M485.32 118v1M485.32 120v22.5M485.32 143v1M485.32 144.25v1.25M485.32 147v1M485.32 149v1M485.32 150.75v2.25M485.32 154.75v2.25M491.13 120v1M491.13 121.5v1M491.13 123v2.25M491.13 125.75v22.5M491.13 148.75v1.75M491.13 151v1.75M491.13 155.25v1M496.95 122v1.25M496.95 124.5v1.75M496.95 126.75v22.5M496.95 149.5v3.75M496.95 156v1M502.76 125.75v1.75M502.76 127.75v17.25M502.76 145.75v1.25M502.76 147.25v1.25M502.76 149v1M502.76 150.25v2.25M502.76 155.25v1M508.57 129.25v17.75M508.57 147.5v1M508.57 149.5v2.5M508.57 152.75v1M508.57 155v1.25M514.39 130v1M514.39 131.25v1.25M514.39 133.5v17.25M514.39 151.25v1M514.39 153v1.25M520.2 125.75v22.25M526.01 129.25v19.5M531.83 134v20.25M537.64 137v1M537.64 139.25v1M537.64 140.75v16.25" stroke="#0c0cff" stroke-width="1.3" fill="none" opacity="0.92" clip-path="url(#c2)"/>
<g font-size="7" fill="#363636" stroke="#363636" stroke-width="0.13"><text x="321.2" y="148.81" text-anchor="end">0.1</text><text x="321.2" y="130.27" text-anchor="end">0.2</text><text x="321.2" y="111.73" text-anchor="end">0.3</text><text x="321.2" y="93.18" text-anchor="end">0.4</text><text x="321.2" y="74.64" text-anchor="end">0.5</text><text x="321.2" y="56.09" text-anchor="end">0.6</text><text x="321.2" y="37.55" text-anchor="end">0.7</text><text x="321.2" y="19.01" text-anchor="end">0.8</text><text x="324" y="170.2" text-anchor="middle">0.5</text><text x="396.67" y="170.2" text-anchor="middle">1</text><text x="469.33" y="170.2" text-anchor="middle">1.5</text><text x="542" y="170.2" text-anchor="middle">2</text><text x="543" y="181.6" text-anchor="end">×<tspan dx="0.9">10</tspan><tspan dy="-3" font-size="5.2">4</tspan></text></g><g font-size="7.85" fill="#363636" stroke="#363636" stroke-width="0.13" text-anchor="middle"><text x="433" y="181">Range (m)</text><text transform="translate(308.2 86.25) rotate(-90)">Elavation angle (deg.)</text></g><text x="433" y="9.3" font-size="7.65" font-weight="bold" fill="#000" stroke="#000" stroke-width="0.2" text-anchor="middle">Proposed-WFD</text><rect x="455.3" y="16.6" width="82.5" height="34.9" fill="#fff" stroke="#b4b4b4" stroke-width="0.7"/><rect x="457.5" y="18.75" width="14.7" height="5.8" fill="#cce3f2"/><path d="M457.5 30.1h14.7" stroke="#5aa5da" stroke-width="0.95"/><path d="M458 38.45h14.7" stroke="#ff6b66" stroke-width="1.4" stroke-dasharray="1.5 2.25"/><rect x="464.25" y="46.35" width="1" height="0.9" fill="#22f"/><g font-size="6.3" fill="#242424" stroke="#242424" stroke-width="0.16"><text transform="translate(474.3 24) scale(1.0 1)">± Std. deviation</text><text transform="translate(474.3 32.35) scale(1.0 1)">Average</text><text transform="translate(474.3 40.7) scale(1.0 1)">True angle</text><text transform="translate(474.3 49.05) scale(1.0 1)">Estimated angle-WFD</text></g>
</g>
<g>
<clipPath id="c3"><rect x="29.1" y="200.1" width="218.65" height="140.3"/></clipPath><path d="M102.17 200.5V340M174.83 200.5V340M29.5 323.45H247.5M29.5 298.86H247.5M29.5 274.27H247.5M29.5 249.68H247.5M29.5 225.09H247.5" stroke="#f3f3f3" stroke-width="0.7" fill="none"/><rect x="29.5" y="200.5" width="218" height="139.5" fill="none" stroke="#b4b4b4" stroke-width="0.8"/><path d="M102.17 340v-2M102.17 200.5v2M174.83 340v-2M174.83 200.5v2M29.5 323.45h2M247.5 323.45h-2M29.5 298.86h2M247.5 298.86h-2M29.5 274.27h2M247.5 274.27h-2M29.5 249.68h2M247.5 249.68h-2M29.5 225.09h2M247.5 225.09h-2M29.5 200.5h2M247.5 200.5h-2" stroke="#b4b4b4" stroke-width="0.7" fill="none"/>
<polygon points="29.5,280.42 30.23,278.79 30.95,277.45 31.68,276.48 32.41,275.99 33.13,276.02 33.86,276.35 34.59,276.66 35.31,276.63 36.04,274.59 36.77,270.5 37.49,266.49 38.22,264.68 38.95,266.59 39.67,270.78 40.4,274.97 41.13,276.88 41.85,276.51 42.58,275.7 43.31,274.89 44.03,274.52 44.76,276.53 45.49,281.05 46.21,285.82 46.94,288.57 47.67,289.62 48.39,290.62 49.12,291.4 49.85,291.77 50.57,292.06 51.3,292.61 52.03,293.14 52.75,293.43 53.48,293.36 54.21,293.11 54.93,292.85 55.66,292.72 56.39,292.4 57.11,291.61 57.84,290.68 58.57,289.9 59.29,288.35 60.02,285.72 60.75,283.24 61.47,282.14 62.2,283.47 62.93,286.38 63.65,289.3 64.38,290.63 65.11,289.69 65.83,287.6 66.56,285.46 67.29,284.35 68.01,284.98 68.74,286.61 69.47,288.2 70.19,288.69 70.92,286.71 71.65,282.88 72.37,279.15 73.1,277.47 73.83,279.22 74.55,283.15 75.28,287.25 76.01,289.53 76.73,289.25 77.46,287.74 78.19,286.15 78.91,285.58 79.64,286.89 80.37,289.35 81.09,291.73 81.82,292.82 82.55,292.8 83.27,292.71 84,292.57 84.73,292.4 85.45,292.14 86.18,291.74 86.91,291.22 87.63,290.63 88.36,288.26 89.09,283.86 89.81,279.62 90.54,277.71 91.27,279.74 91.99,284.3 92.72,289.1 93.45,291.85 94.17,293.02 94.9,294.35 95.63,295.44 96.35,295.87 97.08,295.24 97.81,293.77 98.53,291.97 99.26,290.38 99.99,287.13 100.71,281.67 101.44,276.54 102.17,274.27 102.89,276.46 103.62,281.42 104.35,286.7 105.07,289.87 105.8,291.38 106.53,293.05 107.25,294.4 107.98,294.99 108.71,294.78 109.43,294.16 110.16,293.33 110.89,292.5 111.61,289.65 112.34,284.36 113.07,279.26 113.79,276.98 114.52,279.33 115.25,284.61 115.97,290.12 116.7,293.16 117.43,294.32 118.15,295.7 118.88,296.82 119.61,297.22 120.33,296.77 121.06,295.92 121.79,295.09 122.51,294.66 123.24,294.67 123.97,294.79 124.69,294.93 125.42,295 126.15,294.43 126.87,293.05 127.6,291.32 128.33,289.72 129.05,286.18 129.78,280.19 130.51,274.56 131.23,272.06 131.96,274.68 132.69,280.58 133.41,286.79 134.14,290.35 134.87,291.61 135.59,292.83 136.32,293.86 137.05,294.6 137.77,295.2 138.5,295.84 139.23,296.34 139.95,296.57 140.68,296.49 141.41,296.22 142.13,295.81 142.86,295.29 143.59,293.55 144.31,290.14 145.04,286.1 145.77,282.48 146.49,278.86 147.22,274.88 147.95,271.66 148.67,270.34 149.4,271.66 150.13,274.89 150.85,278.9 151.58,282.58 152.31,286.39 153.03,290.72 153.76,294.26 154.49,295.75 155.21,295.75 155.94,295.71 156.67,295.67 157.39,295.64 158.12,295.65 158.85,295.67 159.57,295.69 160.3,295.7 161.03,296.07 161.75,296.87 162.48,297.68 163.21,298.05 163.93,298.01 164.66,297.82 165.39,297.37 166.11,296.56 166.84,294.77 167.57,292.12 168.29,289.58 169.02,288.11 169.75,286.97 170.47,285.06 171.2,282.89 171.93,280.91 172.65,277.45 173.38,272.06 174.11,267.1 174.83,264.93 175.56,267.19 176.29,272.51 177.01,278.71 177.74,283.61 178.47,287.28 179.19,290.86 179.92,293.79 180.65,295.49 181.37,296.42 182.1,297.28 182.83,297.93 183.55,298.18 184.28,298.1 185.01,297.92 185.73,297.69 186.46,297.45 187.19,297.12 187.91,296.68 188.64,296.29 189.37,296.12 190.09,296.2 190.82,296.41 191.55,296.66 192.27,296.85 193,297.06 193.73,297.34 194.45,297.52 195.18,297.47 195.91,297 196.63,296.11 197.36,294.97 198.09,293.73 198.81,291.22 199.54,287.29 200.27,283.55 200.99,281.65 201.72,281.46 202.45,281.59 203.17,281.7 203.9,281.47 204.63,278.87 205.35,273.81 206.08,268.87 206.81,266.65 207.53,268.26 208.26,272.18 208.99,277.06 209.71,281.54 210.44,286.2 211.17,291.49 211.89,295.84 212.62,297.7 213.35,297.73 214.07,297.64 214.8,297.55 215.53,297.56 216.25,297.89 216.98,298.49 217.71,299.1 218.43,299.48 219.16,299.53 219.89,299.43 220.61,299.28 221.34,299.21 222.07,299.33 222.79,299.59 223.52,299.83 224.25,299.93 224.97,299.46 225.7,298.48 226.43,297.51 227.15,297.07 227.88,297.41 228.61,298.16 229.33,298.94 230.06,299.35 230.79,299.41 231.51,299.41 232.24,299.38 232.97,299.37 233.69,299.2 234.42,298.79 235.15,298.24 235.87,297.68 236.6,297.09 237.33,296.42 238.05,295.68 238.78,294.89 239.51,293.55 240.23,291.43 240.96,288.95 241.69,286.57 242.41,284.38 243.14,282.09 243.87,279.5 244.59,276.41 245.32,272.46 246.05,267.56 246.77,261.87 247.5,255.58 247.5,334.27 246.77,332.43 246.05,330.78 245.32,329.4 244.59,328.34 243.87,327.48 243.14,326.72 242.41,326.15 241.69,325.91 240.96,326.23 240.23,326.92 239.51,327.44 238.78,327.25 238.05,326.53 237.33,325.84 236.6,325.19 235.87,324.62 235.15,324.04 234.42,323.45 233.69,323 232.97,322.82 232.24,322.86 231.51,322.97 230.79,323.1 230.06,323.21 229.33,323.58 228.61,324.27 227.88,324.93 227.15,325.23 226.43,325.19 225.7,325.11 224.97,325.03 224.25,325.02 223.52,325.18 222.79,325.48 222.07,325.78 221.34,325.91 220.61,325.68 219.89,325.16 219.16,324.6 218.43,324.25 217.71,324.24 216.98,324.44 216.25,324.7 215.53,324.89 214.8,325.01 214.07,325.17 213.35,325.34 212.62,325.47 211.89,325.73 211.17,326.26 210.44,327 209.71,327.92 208.99,329.27 208.26,330.97 207.53,332.43 206.81,333.04 206.08,332.34 205.35,330.74 204.63,329.02 203.9,327.95 203.17,327.43 202.45,326.9 201.72,326.38 200.99,325.91 200.27,326.28 199.54,327.61 198.81,328.92 198.09,329.24 197.36,328.66 196.63,328.03 195.91,327.47 195.18,327.11 194.45,326.76 193.73,326.24 193,325.75 192.27,325.45 191.55,325.38 190.82,325.38 190.09,325.42 189.37,325.45 188.64,325.55 187.91,325.79 187.19,326.04 186.46,326.18 185.73,326.2 185.01,326.19 184.28,326.17 183.55,326.16 182.83,326.41 182.1,327.05 181.37,327.91 180.65,328.83 179.92,329.15 179.19,328.7 178.47,328.08 177.74,327.88 177.01,328.76 176.29,330.44 175.56,332.07 174.83,332.8 174.11,331.75 173.38,329.57 172.65,327.71 171.93,327.63 171.2,329.31 170.47,331.34 169.75,333.09 169.02,333.95 168.29,333.21 167.57,331.24 166.84,328.96 166.11,327.3 165.39,326.06 164.66,324.67 163.93,323.55 163.21,323.08 162.48,323.59 161.75,324.72 161.03,325.85 160.3,326.36 159.57,326.24 158.85,325.98 158.12,325.72 157.39,325.6 156.67,325.63 155.94,325.7 155.21,325.78 154.49,325.83 153.76,325.83 153.03,325.82 152.31,325.92 151.58,326.25 150.85,327 150.13,328.04 149.4,328.96 148.67,329.35 147.95,328.94 147.22,328 146.49,326.95 145.77,326.25 145.04,326.17 144.31,326.44 143.59,326.68 142.86,326.47 142.13,325.95 141.41,325.5 140.68,325.19 139.95,325.06 139.23,325.08 138.5,325.22 137.77,325.5 137.05,325.96 136.32,326.76 135.59,327.94 134.87,329.3 134.14,330.63 133.41,330.25 132.69,327.79 131.96,325.01 131.23,323.7 130.51,324.96 129.78,327.59 129.05,329.87 128.33,330.09 127.6,328.43 126.87,326.58 126.15,325.08 125.42,324.46 124.69,324.56 123.97,324.81 123.24,325.07 122.51,325.24 121.79,325.08 121.06,324.62 120.33,324.17 119.61,324.03 118.88,324.67 118.15,326.03 117.43,327.58 116.7,328.81 115.97,327.75 115.25,324.25 114.52,320.52 113.79,318.78 113.07,320.4 112.34,323.9 111.61,327.21 110.89,328.26 110.16,327.26 109.43,326.05 108.71,325.02 107.98,324.55 107.25,325.06 106.53,326.37 105.8,327.99 105.07,329.41 104.35,329.13 103.62,327.01 102.89,324.6 102.17,323.45 101.44,324.71 100.71,327.35 99.99,329.68 99.26,330.02 98.53,328.5 97.81,326.74 97.08,325.3 96.35,324.71 95.63,325.24 94.9,326.46 94.17,327.91 93.45,329.13 92.72,328.55 91.99,326.03 91.27,323.27 90.54,321.98 89.81,323.03 89.09,325.3 88.36,327.41 87.63,328.01 86.91,327.38 86.18,326.77 85.45,326.26 84.73,325.93 84,325.73 83.27,325.56 82.55,325.44 81.82,325.38 81.09,324.46 80.37,322.51 79.64,320.66 78.91,320.01 78.19,321.36 77.46,323.98 76.73,326.7 76.01,328.33 75.28,328.08 74.55,326.61 73.83,324.97 73.1,324.19 72.37,324.8 71.65,326.09 70.92,327.29 70.19,327.59 69.47,326.42 68.74,324.33 68.01,322.28 67.29,321.24 66.56,321.85 65.83,323.48 65.11,325.17 64.38,325.94 63.65,325.25 62.93,323.71 62.2,322.18 61.47,321.48 60.75,322.19 60.02,323.7 59.29,325.05 58.57,325.31 57.84,324.44 57.11,323.31 56.39,322.33 55.66,321.91 54.93,322.18 54.21,322.78 53.48,323.4 52.75,323.72 52.03,323.54 51.3,323.07 50.57,322.61 49.85,322.45 49.12,323.16 48.39,324.71 47.67,326.48 46.94,327.87 46.21,327.39 45.49,325.05 44.76,322.46 44.03,321.24 43.31,321.04 42.58,320.6 41.85,320.16 41.13,319.96 40.4,319.77 39.67,319.37 38.95,318.96 38.22,318.78 37.49,319 36.77,319.45 36.04,319.82 35.31,319.81 34.59,319.36 33.86,318.76 33.13,318.18 32.41,317.8 31.68,317.79 30.95,318.17 30.23,318.86 29.5,319.76" fill="#0072bd" fill-opacity="0.2"/>
<polyline points="29.5,300.09 30.23,298.82 30.95,297.81 31.68,297.14 32.41,296.89 33.13,297.1 33.86,297.55 34.59,298.01 35.31,298.22 36.04,297.2 36.77,294.97 37.49,292.74 38.22,291.73 38.95,292.77 39.67,295.07 40.4,297.37 41.13,298.42 41.85,298.33 42.58,298.15 43.31,297.96 44.03,297.88 44.76,299.49 45.49,303.05 46.21,306.6 46.94,308.22 47.67,308.05 48.39,307.66 49.12,307.28 49.85,307.11 50.57,307.34 51.3,307.84 52.03,308.34 52.75,308.57 53.48,308.38 54.21,307.94 54.93,307.51 55.66,307.32 56.39,307.36 57.11,307.46 57.84,307.56 58.57,307.6 59.29,306.7 60.02,304.71 60.75,302.72 61.47,301.81 62.2,302.82 62.93,305.05 63.65,307.27 64.38,308.29 65.11,307.43 65.83,305.54 66.56,303.65 67.29,302.8 68.01,303.63 68.74,305.47 69.47,307.31 70.19,308.14 70.92,307 71.65,304.49 72.37,301.97 73.1,300.83 73.83,302.09 74.55,304.88 75.28,307.66 76.01,308.93 76.73,307.97 77.46,305.86 78.19,303.75 78.91,302.8 79.64,303.77 80.37,305.93 81.09,308.09 81.82,309.1 82.55,309.12 83.27,309.13 84,309.15 84.73,309.16 85.45,309.2 86.18,309.25 86.91,309.3 87.63,309.32 88.36,307.84 89.09,304.58 89.81,301.32 90.54,299.84 91.27,301.51 91.99,305.17 92.72,308.83 93.45,310.49 94.17,310.46 94.9,310.41 95.63,310.34 96.35,310.29 97.08,310.27 97.81,310.25 98.53,310.24 99.26,310.2 99.99,308.41 100.71,304.51 101.44,300.63 102.17,298.86 102.89,300.53 103.62,304.22 104.35,307.92 105.07,309.64 105.8,309.68 106.53,309.71 107.25,309.73 107.98,309.77 108.71,309.9 109.43,310.1 110.16,310.3 110.89,310.38 111.61,308.43 112.34,304.13 113.07,299.83 113.79,297.88 114.52,299.93 115.25,304.43 115.97,308.94 116.7,310.98 117.43,310.95 118.15,310.86 118.88,310.75 119.61,310.62 120.33,310.47 121.06,310.27 121.79,310.08 122.51,309.95 123.24,309.87 123.97,309.8 124.69,309.75 125.42,309.73 126.15,309.75 126.87,309.82 127.6,309.88 128.33,309.91 129.05,308.03 129.78,303.89 130.51,299.76 131.23,297.88 131.96,299.85 132.69,304.18 133.41,308.52 134.14,310.49 134.87,310.46 135.59,310.38 136.32,310.31 137.05,310.28 137.77,310.35 138.5,310.53 139.23,310.71 139.95,310.81 140.68,310.84 141.41,310.86 142.13,310.88 142.86,310.88 143.59,310.11 144.31,308.29 145.04,306.13 145.77,304.37 146.49,302.91 147.22,301.44 147.95,300.3 148.67,299.84 149.4,300.31 150.13,301.46 150.85,302.95 151.58,304.41 152.31,306.16 153.03,308.27 153.76,310.05 154.49,310.79 155.21,310.77 155.94,310.71 156.67,310.65 157.39,310.62 158.12,310.68 158.85,310.82 159.57,310.96 160.3,311.03 161.03,310.96 161.75,310.8 162.48,310.64 163.21,310.57 163.93,310.78 164.66,311.25 165.39,311.72 166.11,311.93 166.84,311.86 167.57,311.68 168.29,311.39 169.02,311.03 169.75,310.03 170.47,308.2 171.2,306.1 171.93,304.27 172.65,302.58 173.38,300.81 174.11,299.42 174.83,298.86 175.56,299.63 176.29,301.47 177.01,303.74 177.74,305.75 178.47,307.68 179.19,309.78 179.92,311.47 180.65,312.16 181.37,312.16 182.1,312.17 182.83,312.17 183.55,312.17 184.28,312.14 185.01,312.06 185.73,311.94 186.46,311.82 187.19,311.58 187.91,311.23 188.64,310.92 189.37,310.78 190.09,310.81 190.82,310.9 191.55,311.02 192.27,311.15 193,311.41 193.73,311.79 194.45,312.14 195.18,312.29 195.91,312.23 196.63,312.07 197.36,311.82 198.09,311.48 198.81,310.07 199.54,307.45 200.27,304.91 200.99,303.78 201.72,303.92 202.45,304.24 203.17,304.56 203.9,304.71 204.63,303.95 205.35,302.28 206.08,300.6 206.81,299.84 207.53,300.34 208.26,301.57 208.99,303.16 209.71,304.73 210.44,306.6 211.17,308.87 211.89,310.78 212.62,311.59 213.35,311.53 214.07,311.41 214.8,311.28 215.53,311.23 216.25,311.29 216.98,311.46 217.71,311.67 218.43,311.86 219.16,312.07 219.89,312.29 220.61,312.48 221.34,312.56 222.07,312.55 222.79,312.53 223.52,312.51 224.25,312.47 224.97,312.24 225.7,311.79 226.43,311.35 227.15,311.15 227.88,311.17 228.61,311.22 229.33,311.26 230.06,311.28 230.79,311.25 231.51,311.19 232.24,311.12 232.97,311.09 233.69,311.1 234.42,311.12 235.15,311.14 235.87,311.15 236.6,311.14 237.33,311.13 238.05,311.1 238.78,311.07 239.51,310.5 240.23,309.17 240.96,307.59 241.69,306.24 242.41,305.27 243.14,304.4 243.87,303.49 244.59,302.37 245.32,300.93 246.05,299.17 246.77,297.15 247.5,294.93" fill="none" stroke="#2a90c2" stroke-width="1.05" stroke-linejoin="round"/>
<polyline points="29.5,305.49 33.13,306.39 36.77,307.2 40.4,307.95 44.03,308.64 47.67,309.27 51.3,309.86 54.93,310.4 58.57,310.91 62.2,311.38 65.83,311.82 69.47,312.24 73.1,312.63 76.73,313 80.37,313.35 84,313.68 87.63,313.99 91.27,314.29 94.9,314.57 98.53,314.84 102.17,315.09 105.8,315.34 109.43,315.57 113.07,315.8 116.7,316.01 120.33,316.22 123.97,316.42 127.6,316.61 131.23,316.79 134.87,316.97 138.5,317.14 142.13,317.3 145.77,317.46 149.4,317.62 153.03,317.77 156.67,317.91 160.3,318.05 163.93,318.19 167.57,318.32 171.2,318.45 174.83,318.57 178.47,318.69 182.1,318.81 185.73,318.92 189.37,319.04 193,319.14 196.63,319.25 200.27,319.35 203.9,319.46 207.53,319.56 211.17,319.65 214.8,319.75 218.43,319.84 222.07,319.93 225.7,320.02 229.33,320.11 232.97,320.19 236.6,320.27 240.23,320.36 243.87,320.44 247.5,320.52" fill="none" stroke="#ff4d47" stroke-width="1.2" stroke-dasharray="1.8 2.3"/>
<path d="M32.41 232.75v1M32.41 240.75v1M32.41 248.75v1.25M32.41 251v1M32.41 257.25v1.75M32.41 259.75v1.75M32.41 264.75v1.25M32.41 269.5v1M32.41 272v1.75M32.41 275v1.75M32.41 278v1.75M32.41 283.75v1M32.41 285.5v1M32.41 288.5v1M32.41 289.75v1.75M32.41 291.75v1M32.41 294.25v1M32.41 295.5v2M32.41 298.75v1M32.41 300v3M32.41 303.25v2.5M32.41 306.75v7.75M32.41 314.75v2.75M32.41 318v1.5M32.41 320.75v1M32.41 323v1M38.22 269v1M38.22 270.75v1M38.22 274v1M38.22 275.5v2M38.22 278.5v2M38.22 283.5v1.5M38.22 285.25v1M38.22 291v3M38.22 295.5v3.5M38.22 300v2M38.22 302.5v1M38.22 304.75v2.5M38.22 307.5v8M38.22 316.5v1M38.22 320v1.5M38.22 322.25v1.75M44.03 208v1M44.03 216.75v1M44.03 219.5v1M44.03 224.25v1M44.03 241.25v1M44.03 251.25v1.25M44.03 253.75v1M44.03 262v1.75M44.03 264v1M44.03 269.5v1.5M44.03 271.25v2.5M44.03 274.75v1M44.03 276v1M44.03 277.25v1.25M44.03 284.25v1.25M44.03 289.75v1M44.03 291.25v1M44.03 292.5v1M44.03 294v1M44.03 295.5v3.5M44.03 299.25v2.5M44.03 302.5v1M44.03 306v3.5M44.03 310v7.5M44.03 317.75v1M44.03 319v1.75M44.03 322.25v1.75M49.85 273.75v1M49.85 276.75v1M49.85 278.5v1.5M49.85 280.25v1M49.85 281.75v1M49.85 283.75v1M49.85 285.25v2M49.85 290v1M49.85 293v1M49.85 295.5v1M49.85 298.5v4.75M49.85 303.75v2M49.85 306.5v6.5M49.85 313.25v1.5M49.85 315.25v2M49.85 317.5v2M49.85 322.25v1.75M55.66 276.25v1M55.66 277.75v1M55.66 285v2.5M55.66 289.75v1M55.66 291.5v1.25M55.66 294.5v1.25M55.66 296v8.5M55.66 305v2.5M55.66 307.75v2M55.66 311.75v1.5M55.66 313.5v2.5M55.66 316.5v1.75M55.66 318.5v1M55.66 323v1M61.47 277.5v1M61.47 281.25v1.5M61.47 283v2.5M61.47 286.5v1M61.47 289.75v1M61.47 291.5v5M61.47 297.25v5.5M61.47 303.5v2M61.47 306.25v2.25M61.47 309v1M61.47 311.25v4.75M61.47 317.25v1M61.47 320v1.75M61.47 322.25v1.75M67.29 273.75v1M67.29 275.5v1M67.29 277v1.25M67.29 278.5v1M67.29 282.25v1M67.29 286v1M67.29 289.75v1M67.29 291.5v2.25M67.29 294v1.25M67.29 295.75v1M67.29 297v1M67.29 299.25v1M67.29 300.5v3.75M67.29 304.5v4.25M67.29 309.25v1M67.29 310.75v6M67.29 318.75v1M67.29 322.25v1.75M73.1 235.75v1M73.1 243.75v1M73.1 254.25v1.75M73.1 260v1.25M73.1 263.75v1M73.1 266v1M73.1 267.75v1M73.1 269.5v1M73.1 271v2.5M73.1 274.25v2.75M73.1 278.5v1.25M73.1 280.75v1M73.1 282.75v1M73.1 286v1M73.1 289.75v1M73.1 291.75v1M73.1 293.75v1M73.1 295v1M73.1 298.25v4.5M73.1 303v3M73.1 306.25v1.25M73.1 308v2.5M73.1 311v1.25M73.1 312.75v1.5M73.1 315v4.25M73.1 322.25v1.75M78.91 276.25v1.25M78.91 282.5v1.75M78.91 285.75v1M78.91 288.25v1M78.91 291v1.25M78.91 292.75v1.75M78.91 295.25v2M78.91 299v1.25M78.91 301.25v2M78.91 303.5v5M78.91 308.75v1.25M78.91 310.5v9.5M78.91 322.25v1.75M84.73 281.25v1.25M84.73 282.75v2M84.73 288.5v1M84.73 289.75v4.5M84.73 295.25v1M84.73 296.5v1.25M84.73 298.25v1M84.73 299.5v1.25M84.73 302.25v2.25M84.73 305.5v2M84.73 307.75v1.25M84.73 309.75v1.75M84.73 312v1.75M84.73 314.5v3M84.73 317.75v1.5M84.73 320.25v1M84.73 321.5v1M84.73 323v1M90.54 247.75v1M90.54 253.25v1.75M90.54 258.25v1M90.54 265.25v3.75M90.54 270.5v1.5M90.54 273.75v1.25M90.54 277.75v2.25M90.54 280.75v1.25M90.54 283.75v1.25M90.54 289.75v2.25M90.54 293.75v2.75M90.54 296.75v1M90.54 298v1.5M90.54 299.75v1.25M90.54 301.25v1M90.54 304.25v4.5M90.54 309v2.25M90.54 311.5v2.75M90.54 315.5v2.5M90.54 319.75v1M90.54 321v1M90.54 323v1M96.35 283.75v2M96.35 286.25v1M96.35 287.5v1M96.35 289.75v1.75M96.35 292.5v2.25M96.35 295v2.25M96.35 298.25v1.75M96.35 300.25v1M96.35 301.75v3.25M96.35 305.25v1.25M96.35 308.25v2M96.35 311.25v7.5M96.35 323v1M102.17 228.5v1M102.17 229.75v1M102.17 237.5v1M102.17 262.25v1M102.17 263.5v2.5M102.17 267v1M102.17 268.5v2M102.17 270.75v1.5M102.17 273.25v1.25M102.17 275v2.5M102.17 278.75v2M102.17 282v2.5M102.17 286.5v1M102.17 289.75v1.25M102.17 291.75v1M102.17 293.5v2.75M102.17 296.5v1.75M102.17 300.25v1M102.17 302.75v3.25M102.17 306.25v3M102.17 310.25v1M102.17 312v5M102.17 317.25v2.5M102.17 320v1.75M102.17 322.25v1.75M107.98 278.75v1M107.98 280.25v1.75M107.98 284.5v1.25M107.98 286.5v2M107.98 289v2.75M107.98 292.25v1.5M107.98 295.25v1M107.98 297.25v2.25M107.98 300v3.75M107.98 304v1M107.98 305.75v1M107.98 307.25v4.5M107.98 312.25v1.5M107.98 314.25v6.25M107.98 321v1M107.98 322.25v1.75M113.79 259.75v1M113.79 263.25v1M113.79 266v1M113.79 269.25v2M113.79 273v4M113.79 277.5v1.25M113.79 279v1M113.79 280.75v1M113.79 282v1M113.79 285v1M113.79 286.25v1M113.79 289.25v1.5M113.79 293.25v1M113.79 295.75v4M113.79 301.25v1.25M113.79 303.5v4.25M113.79 308.5v1.75M113.79 312.5v5M113.79 318.25v1M113.79 320.75v3.25M119.61 278.75v1M119.61 280v1M119.61 282.25v1.25M119.61 285.75v2.5M119.61 289.75v1M119.61 291v1.5M119.61 293.75v2M119.61 298v1M119.61 299.75v1.25M119.61 303.5v1.5M119.61 305.75v9M119.61 315v2M119.61 317.25v2.25M119.61 321.25v2.75M125.42 272.75v2M125.42 275.25v1.25M125.42 281.75v1.75M125.42 283.75v2M125.42 289.75v1M125.42 292.25v1M125.42 293.75v1.5M125.42 296.25v2.5M125.42 299.25v1M125.42 300.5v1.25M125.42 302v2M125.42 305.25v3.25M125.42 309.25v1.5M125.42 312.5v2.25M125.42 315.5v1.75M125.42 317.75v1.25M125.42 319.5v4.5M131.23 218.75v1M131.23 222.25v1M131.23 239.5v1.75M131.23 246.25v1.75M131.23 255.75v1M131.23 257.75v1M131.23 260v1.25M131.23 264.5v1M131.23 266.25v1M131.23 269.5v1M131.23 272v3.5M131.23 276v1M131.23 280.75v3M131.23 289v1.75M131.23 292v1M131.23 293.25v1.25M131.23 296.25v1M131.23 297.5v4.75M131.23 303v1M131.23 305.25v1M131.23 306.5v1M131.23 308.25v1M131.23 309.5v10.5M131.23 322.25v1.75M137.05 276.25v4M137.05 282.75v1.25M137.05 285v1M137.05 290.5v1M137.05 293.25v1.75M137.05 298v3M137.05 302v1M137.05 303.75v1M137.05 305v1.75M137.05 307v1.5M137.05 312v6M137.05 318.5v3.5M137.05 323v1M142.86 277.25v1.5M142.86 281.5v1M142.86 283v1.5M142.86 287.25v1M142.86 289v1.75M142.86 291.5v1M142.86 295v3.75M142.86 299.25v1.75M142.86 302v1M142.86 305.5v1.25M142.86 307.25v1.75M142.86 309.75v1M142.86 312v4.25M142.86 317v4.25M142.86 321.5v2.5M148.67 241.75v1M148.67 251.5v1M148.67 254.25v1M148.67 258.5v1M148.67 261v1M148.67 265.5v1M148.67 266.75v1M148.67 268.75v1.5M148.67 270.5v1M148.67 272.25v1M148.67 274.5v1M148.67 276v2M148.67 281.25v1M148.67 285.75v1M148.67 287v1M148.67 290.75v2.5M148.67 295.25v4.75M148.67 300.5v1.25M148.67 304.5v1M148.67 306v3M148.67 310v1M148.67 311.5v6M148.67 318v1.75M148.67 320v2M148.67 322.25v1.75M154.49 267v1M154.49 269v3M154.49 272.25v1M154.49 273.75v2M154.49 278.25v1.5M154.49 282v2.25M154.49 289.75v1.75M154.49 291.75v1M154.49 295v4.5M154.49 300.5v1M154.49 302.25v1M154.49 304v1M154.49 305.25v1M154.49 309v1.5M154.49 312.5v2.75M154.49 315.5v6M154.49 322.25v1.75M160.3 282.5v1M160.3 283.75v3.5M160.3 289.25v1.5M160.3 294.5v3.5M160.3 298.75v1.25M160.3 300.75v1M160.3 302.5v1.25M160.3 304.75v1M160.3 306.5v1M160.3 307.75v1.5M160.3 309.5v1M160.3 312.25v5.5M160.3 319v5M166.11 282.5v2.5M166.11 286.5v1.75M166.11 289.75v1.75M166.11 291.75v1M166.11 293.75v1M166.11 295v1M166.11 296.5v1M166.11 298v1.5M166.11 299.75v4.25M166.11 304.25v2.25M166.11 307.5v1M166.11 309.25v2.25M166.11 311.75v1.25M166.11 313.25v4M166.11 317.5v1.75M166.11 320.25v1.25M166.11 322.25v1.75M171.93 268v3M171.93 272.75v1M171.93 275v2.25M171.93 279.5v1M171.93 284.75v1M171.93 289.75v1.5M171.93 292.75v2.75M171.93 298.75v1M171.93 300v2M171.93 303.25v3.25M171.93 308.5v1M171.93 311v1.5M171.93 313.75v5.75M171.93 319.75v1M171.93 322.25v1.75M177.74 261.75v1M177.74 263.5v2.75M177.74 267v2M177.74 271v1M177.74 273.5v1.5M177.74 277.5v2M177.74 281.25v1M177.74 283.75v1M177.74 285v1M177.74 288.25v1M177.74 289.75v6.5M177.74 297.5v2M177.74 301v1M177.74 304.25v2M177.74 307v1M177.74 308.75v9.5M177.74 318.75v1M177.74 320v1M177.74 321.5v2.5M183.55 275.25v1.75M183.55 281v2.75M183.55 288v1M183.55 289.75v1.25M183.55 295.75v3M183.55 299v1.25M183.55 300.75v1M183.55 302.75v1M183.55 305v2M183.55 307.5v1M183.55 309v2M183.55 313v4.25M183.55 317.5v6.5M189.37 281.5v1.75M189.37 283.5v1M189.37 285.75v2M189.37 288.25v1M189.37 291.5v1M189.37 292.75v2M189.37 295.25v1.25M189.37 297.75v3.75M189.37 302v1.25M189.37 304.5v1M189.37 306.5v1.25M189.37 308v3M189.37 311.25v1.75M189.37 313.75v6M189.37 320.5v1M189.37 323v1M195.18 275.25v1M195.18 276.75v1M195.18 283.5v1.75M195.18 287.25v1.5M195.18 290.25v1M195.18 294v1.5M195.18 297.25v1M195.18 299v2.25M195.18 301.75v2M195.18 304v1.25M195.18 306.5v3.25M195.18 310v1M195.18 312v2M195.18 314.5v5.25M195.18 320.5v3.5M200.99 262.75v1M200.99 264.25v1M200.99 268.5v2.5M200.99 272.75v1M200.99 274v2.25M200.99 277.5v1M200.99 279.75v2M200.99 287v1M200.99 289v2.25M200.99 292.25v1M200.99 294v3.75M200.99 298v1.5M200.99 300.5v2.75M200.99 307v10.75M200.99 318.25v3.75M200.99 322.25v1.75M206.81 237v1M206.81 242.25v1M206.81 249.25v1M206.81 256.75v1M206.81 258.5v1.25M206.81 265v1M206.81 267.75v1.75M206.81 270.5v5.25M206.81 276.25v1M206.81 278v1M206.81 288.25v7.75M206.81 297.25v3.75M206.81 302v3.5M206.81 308v1M206.81 309.5v11.75M206.81 322.25v1.75M212.62 271.25v1.75M212.62 273.25v1M212.62 274.5v1M212.62 276v1M212.62 278.75v1.25M212.62 285v2.5M212.62 288.75v2.5M212.62 294.75v5.25M212.62 302v2.25M212.62 305.5v4M212.62 310.75v1M212.62 312v1M212.62 314.5v3.75M212.62 318.5v2.75M212.62 322.25v1.75M218.43 283.5v2M218.43 290v6.5M218.43 297.5v1.25M218.43 299v1M218.43 302.5v2.75M218.43 306.25v1M218.43 307.5v1M218.43 309.75v1.75M218.43 311.75v1.5M218.43 313.75v5.75M218.43 321.25v2.75M224.25 280.5v1M224.25 283.5v2M224.25 286v1M224.25 287.75v2M224.25 290.25v1M224.25 292.25v1.25M224.25 293.75v1.5M224.25 296.5v1M224.25 298v1.75M224.25 302.75v1M224.25 304v1M224.25 305.75v1.25M224.25 307.75v3M224.25 313.25v1M224.25 314.75v6M224.25 322v2M230.06 279.25v2M230.06 284v1.75M230.06 289.75v1M230.06 292.25v2.5M230.06 295.25v1M230.06 298.25v1M230.06 299.5v1.25M230.06 301.25v1M230.06 302.5v1M230.06 304.25v1.5M230.06 306v1.75M230.06 308.25v1M230.06 309.5v1.5M230.06 311.75v6.25M230.06 319v2.5M230.06 322.25v1.75M235.87 275.25v1.75M235.87 277.75v1M235.87 279v1M235.87 280.25v2.25M235.87 283.5v1M235.87 286.25v1M235.87 289.75v1M235.87 291.5v1M235.87 295.25v1M235.87 297.5v1M235.87 298.75v1M235.87 300.25v1M235.87 302.5v2M235.87 305v1.5M235.87 307.5v1M235.87 308.75v2M235.87 311v1M235.87 312.25v9.25M235.87 322.25v1.75M241.69 260.75v1M241.69 262.75v1M241.69 265.75v1M241.69 267.25v1M241.69 271v1M241.69 272.25v1.25M241.69 274v1M241.69 275.75v1.25M241.69 282.5v1.5M241.69 285v1M241.69 287v2.5M241.69 289.75v1.25M241.69 292v1M241.69 296.5v1M241.69 298.5v3.75M241.69 303v2M241.69 305.25v1M241.69 306.5v1.25M241.69 308.25v1.75M241.69 310.75v2M241.69 314v4M241.69 319.5v1.75M241.69 321.5v1M241.69 323v1M247.5 200.2v0.8M247.5 202.5v1M247.5 204.25v1M247.5 206v1M247.5 208v1M247.5 211.5v1M247.5 214.5v1.75M247.5 220.25v2.75M247.5 225.75v1M247.5 227.5v1M247.5 236.5v1.75M247.5 243.25v1M247.5 248.25v1.75M247.5 250.5v2.25M247.5 254v1M247.5 257v1.5M247.5 258.75v3.5M247.5 265v1.75M247.5 267.5v5M247.5 272.75v2M247.5 275v7M247.5 282.75v4.5M247.5 287.5v1M247.5 288.75v2.5M247.5 291.5v1.75M247.5 294.5v1.75M247.5 296.75v1.75M247.5 300v1M247.5 301.25v1.25M247.5 304v1M247.5 307.5v2.25M247.5 310.75v2M247.5 314v6.75M247.5 321v1.5M247.5 323v1" stroke="#0c0cff" stroke-width="1.3" fill="none" opacity="0.92" clip-path="url(#c3)"/>
<g font-size="7" fill="#363636" stroke="#363636" stroke-width="0.13"><text x="26.7" y="325.95" text-anchor="end">0</text><text x="26.7" y="301.36" text-anchor="end">1</text><text x="26.7" y="276.77" text-anchor="end">2</text><text x="26.7" y="252.18" text-anchor="end">3</text><text x="26.7" y="227.59" text-anchor="end">4</text><text x="26.7" y="203" text-anchor="end">5</text><text x="29.5" y="350.2" text-anchor="middle">0.5</text><text x="102.17" y="350.2" text-anchor="middle">1</text><text x="174.83" y="350.2" text-anchor="middle">1.5</text><text x="247.5" y="350.2" text-anchor="middle">2</text><text x="248.5" y="361.6" text-anchor="end">×<tspan dx="0.9">10</tspan><tspan dy="-3" font-size="5.2">4</tspan></text></g><g font-size="7.85" fill="#363636" stroke="#363636" stroke-width="0.13" text-anchor="middle"><text x="138.5" y="361">Range (m)</text><text transform="translate(19.6 270.25) rotate(-90)">Elavation angle (deg.)</text></g><text x="138.5" y="197.3" font-size="7.65" font-weight="bold" fill="#000" stroke="#000" stroke-width="0.2" text-anchor="middle">DU-GMUSIC</text><rect x="178.75" y="204.1" width="64" height="33.2" fill="#fff" stroke="#b4b4b4" stroke-width="0.7"/><rect x="180.95" y="206.3" width="13.8" height="5.8" fill="#cce3f2"/><path d="M180.95 217.3h13.8" stroke="#5aa5da" stroke-width="0.95"/><path d="M181.45 225.3h13.8" stroke="#ff6b66" stroke-width="1.4" stroke-dasharray="1.5 2.25"/><rect x="187.25" y="232.85" width="1" height="0.9" fill="#22f"/><g font-size="6.3" fill="#242424" stroke="#242424" stroke-width="0.16"><text transform="translate(196.85 211.55) scale(0.978 1)">± Std. deviation</text><text transform="translate(196.85 219.55) scale(0.978 1)">Average</text><text transform="translate(196.85 227.55) scale(0.978 1)">True angle</text><text transform="translate(196.85 235.55) scale(0.978 1)">Estimated angle</text></g>
</g>
<g>
<clipPath id="c4"><rect x="323.6" y="200.1" width="218.65" height="140.3"/></clipPath><path d="M396.67 200.5V340M469.33 200.5V340M324 333.5H542M324 304.5H542M324 275.5H542M324 246.5H542M324 217.5H542" stroke="#f3f3f3" stroke-width="0.7" fill="none"/><rect x="324" y="200.5" width="218" height="139.5" fill="none" stroke="#b4b4b4" stroke-width="0.8"/><path d="M396.67 340v-2M396.67 200.5v2M469.33 340v-2M469.33 200.5v2M324 333.5h2M542 333.5h-2M324 304.5h2M542 304.5h-2M324 275.5h2M542 275.5h-2M324 246.5h2M542 246.5h-2M324 217.5h2M542 217.5h-2" stroke="#b4b4b4" stroke-width="0.7" fill="none"/>
<polygon points="324,300.44 324.36,299.83 324.73,299.15 325.09,298.41 325.45,297.63 325.82,296.58 326.18,295.3 326.54,294.22 326.91,293.77 327.27,294.24 327.63,295.41 328,296.93 328.36,298.47 328.72,300.41 329.09,302.81 329.45,304.87 329.81,305.73 330.18,304.69 330.54,302.23 330.9,299.36 331.27,297.09 331.63,295.34 331.99,293.6 332.36,292.27 332.72,291.74 333.08,292.56 333.45,294.43 333.81,296.47 334.17,297.82 334.54,298.52 334.9,299.12 335.26,299.53 335.63,299.64 335.99,298.48 336.35,295.87 336.72,292.94 337.08,290.84 337.44,289.52 337.81,288.32 338.17,287.44 338.53,287.1 338.9,287.5 339.26,288.54 339.62,289.95 339.99,291.48 340.35,293.73 340.71,296.77 341.08,299.53 341.44,300.92 341.8,301.25 342.17,301.53 342.53,301.74 342.89,301.86 343.26,301.3 343.62,299.99 343.98,298.69 344.35,298.12 344.71,298.81 345.07,300.28 345.44,301.79 345.8,302.59 346.16,302.21 346.53,301.09 346.89,299.92 347.25,299.38 347.62,301.13 347.98,304.97 348.34,308.8 348.71,310.51 349.07,309.07 349.43,305.97 349.8,302.88 350.16,301.47 350.52,302.56 350.89,305.01 351.25,307.49 351.61,308.69 351.98,308.88 352.34,309.15 352.7,309.42 353.07,309.62 353.43,309.78 353.79,309.93 354.16,310.03 354.52,310.05 354.88,309.92 355.25,309.69 355.61,309.42 355.97,309.18 356.34,308.17 356.7,306.21 357.06,304.3 357.43,303.44 357.79,304.4 358.15,306.56 358.52,308.86 358.88,310.22 359.24,310.75 359.61,311.23 359.97,311.6 360.33,311.82 360.7,311.69 361.06,311.24 361.42,310.82 361.79,310.73 362.15,311.08 362.51,311.6 362.88,312.07 363.24,312.27 363.6,312.17 363.97,311.88 364.33,311.48 364.69,311.04 365.06,310.27 365.42,309.07 365.78,307.72 366.15,306.55 366.51,305.45 366.87,304.31 367.24,303.41 367.6,303.05 367.96,303.42 368.33,304.37 368.69,305.62 369.05,306.93 369.42,308.71 369.78,311.02 370.14,313.03 370.51,313.88 370.87,312.55 371.23,309.55 371.6,306.41 371.96,304.63 372.32,304.09 372.69,303.67 373.05,303.35 373.41,303.13 373.78,303.08 374.14,303.19 374.5,303.36 374.87,303.49 375.23,304.84 375.59,307.76 375.96,310.77 376.32,312.37 376.68,312.67 377.05,312.82 377.41,312.86 377.77,312.86 378.14,311.28 378.5,307.8 378.86,304.33 379.23,302.78 379.59,303.29 379.95,304.34 380.32,305.41 380.68,305.97 381.04,306.06 381.41,306.07 381.77,306.06 382.13,306.07 382.5,306.12 382.86,306.14 383.22,306.01 383.59,305.64 383.95,304.49 384.31,302.63 384.68,300.91 385.04,300.15 385.4,300.74 385.77,302.2 386.13,304.08 386.49,305.94 386.86,308.17 387.22,310.88 387.58,313.17 387.95,314.13 388.31,313.28 388.67,311.32 389.04,309.19 389.4,307.8 389.76,307.33 390.13,307.19 390.49,307.11 390.85,306.86 391.22,306.21 391.58,305.34 391.94,304.56 392.31,304.23 392.67,306.12 393.03,310.27 393.4,314.42 393.76,316.3 394.12,315.27 394.49,312.83 394.85,310.02 395.21,307.84 395.58,306.23 395.94,304.68 396.3,303.51 396.67,303.05 397.03,303.56 397.39,304.82 397.76,306.46 398.12,308.09 398.48,310.07 398.85,312.49 399.21,314.54 399.57,315.41 399.94,314.3 400.3,311.86 400.66,309.42 401.03,308.31 401.39,309.54 401.75,312.27 402.12,314.99 402.48,316.23 402.84,315.13 403.21,312.72 403.57,310.29 403.93,309.14 404.3,310.06 404.66,312.14 405.02,314.17 405.39,314.95 405.75,313.89 406.11,311.71 406.48,309.17 406.84,307.01 407.2,305.12 407.57,303.16 407.93,301.64 408.29,301.02 408.66,301.84 409.02,303.71 409.38,305.79 409.75,307.23 410.11,308.25 410.47,309.41 410.84,310.36 411.2,310.75 411.56,311.46 411.93,313.07 412.29,314.75 412.65,315.7 413.02,315.86 413.38,315.82 413.74,315.74 414.11,315.81 414.47,316.21 414.83,316.84 415.2,317.42 415.56,317.68 415.92,316.56 416.29,314.03 416.65,311.33 417.01,309.71 417.38,309.23 417.74,309.06 418.1,309.06 418.47,309.09 418.83,310.09 419.19,312.27 419.56,314.4 419.92,315.24 420.28,314.96 420.65,314.58 421.01,314.11 421.37,313.53 421.74,312.63 422.1,311.34 422.46,309.89 422.83,308.53 423.19,307.05 423.55,305.29 423.92,303.55 424.28,302.13 424.64,300.91 425.01,299.7 425.37,298.78 425.73,298.41 426.1,298.77 426.46,299.69 426.82,300.95 427.19,302.32 427.55,304.22 427.91,306.76 428.28,309.25 428.64,310.99 429,312.01 429.37,312.82 429.73,313.49 430.09,314.09 430.46,314.65 430.82,315.16 431.18,315.6 431.55,315.98 431.91,316.34 432.27,316.69 432.64,317 433,317.22 433.36,316.39 433.73,314.33 434.09,312.16 434.45,310.99 434.82,310.71 435.18,310.5 435.54,310.36 435.91,310.31 436.27,310.99 436.63,312.42 437,313.75 437.36,314.08 437.72,313.44 438.09,312.52 438.45,311.4 438.81,310.19 439.18,308.84 439.54,307.25 439.9,305.51 440.27,303.66 440.63,301.57 440.99,299.23 441.36,296.92 441.72,294.93 442.08,293.04 442.45,291.16 442.81,289.71 443.17,289.13 443.54,289.73 443.9,291.22 444.26,293.15 444.63,295.09 444.99,297.12 445.35,299.47 445.72,301.85 446.08,303.98 446.44,305.87 446.81,307.65 447.17,309.28 447.53,310.67 447.9,311.84 448.26,312.87 448.62,313.81 448.99,314.72 449.35,315.75 449.71,316.84 450.08,317.72 450.44,318.12 450.8,318.11 451.17,317.99 451.53,317.85 451.89,317.78 452.26,317.23 452.62,316.02 452.98,314.81 453.35,314.26 453.71,315.17 454.07,317.17 454.44,319.18 454.8,320.09 455.16,318.85 455.53,316.14 455.89,313.43 456.25,312.2 456.62,313.09 456.98,315.08 457.34,317.13 457.71,318.21 458.07,318.41 458.43,318.51 458.8,318.55 459.16,318.56 459.52,318.57 459.89,318.59 460.25,318.59 460.61,318.56 460.98,317.87 461.34,316.42 461.7,314.99 462.07,314.33 462.43,314.16 462.79,313.71 463.16,313.1 463.52,312.45 463.88,311.65 464.25,310.55 464.61,309.22 464.97,307.7 465.34,305.76 465.7,303.29 466.06,300.61 466.43,298.02 466.79,295.53 467.15,293 467.52,290.54 467.88,288.24 468.24,285.8 468.61,283.25 468.97,281.24 469.33,280.43 469.7,281.26 470.06,283.3 470.42,285.89 470.79,288.37 471.15,290.7 471.51,293.2 471.88,295.76 472.24,298.29 472.6,300.86 472.97,303.5 473.33,305.99 473.69,308.1 474.06,309.94 474.42,311.66 474.78,313.08 475.15,314.01 475.51,314.72 475.87,315.47 476.24,316.07 476.6,316.35 476.96,317.08 477.33,318.63 477.69,320.17 478.05,320.86 478.42,320.85 478.78,320.82 479.14,320.78 479.51,320.73 479.87,320.54 480.23,320.22 480.6,319.94 480.96,319.88 481.32,320.18 481.69,320.73 482.05,321.25 482.41,321.48 482.78,320.84 483.14,319.33 483.5,317.56 483.87,316.15 484.23,315.04 484.59,313.94 484.96,313.11 485.32,312.77 485.68,313.87 486.05,316.28 486.41,318.72 486.77,319.88 487.14,320.08 487.5,320.4 487.86,320.69 488.23,320.83 488.59,320.8 488.95,320.73 489.32,320.66 489.68,320.63 490.04,320.68 490.41,320.79 490.77,320.89 491.13,320.92 491.5,320.24 491.86,318.78 492.22,317.32 492.59,316.66 492.95,317.19 493.31,318.34 493.68,319.5 494.04,320.02 494.4,319.41 494.77,317.93 495.13,316.08 495.49,314.4 495.86,312.98 496.22,311.54 496.58,309.97 496.95,308.17 497.31,305.83 497.67,303.01 498.04,300.17 498.4,297.76 498.76,295.9 499.13,294.28 499.49,292.72 499.85,291.07 500.22,288.91 500.58,286.46 500.94,284.45 501.31,283.62 501.67,284.46 502.03,286.5 502.4,288.99 502.76,291.18 503.12,292.86 503.49,294.44 503.85,296.09 504.21,297.98 504.58,300.42 504.94,303.28 505.3,306.13 505.67,308.5 506.03,310.31 506.39,311.88 506.76,313.35 507.12,314.83 507.48,316.59 507.85,318.48 508.21,320.08 508.57,320.94 508.94,321.28 509.3,321.6 509.66,321.8 510.03,321.82 510.39,321.4 510.75,320.62 511.12,319.86 511.48,319.52 511.84,320 512.21,321.04 512.57,322.09 512.93,322.57 513.3,321.49 513.66,319.11 514.02,316.74 514.39,315.66 514.75,316.47 515.11,318.28 515.48,320.21 515.84,321.34 516.2,321.65 516.57,321.77 516.93,321.78 517.29,321.77 517.66,321.6 518.02,321.2 518.38,320.71 518.75,320.25 519.11,319.82 519.47,319.39 519.84,319.05 520.2,318.92 520.56,319.29 520.93,320.12 521.29,321.01 521.65,321.55 522.02,321.81 522.38,322.11 522.74,322.38 523.11,322.58 523.47,321.75 523.83,319.72 524.2,317.67 524.56,316.72 524.92,317.82 525.29,320.23 525.65,322.61 526.01,323.65 526.38,323.33 526.74,322.75 527.1,322.15 527.47,321.8 527.83,321.86 528.19,322.14 528.56,322.43 528.92,322.51 529.28,322.19 529.65,321.63 530.01,321.08 530.37,320.84 530.74,321.1 531.1,321.68 531.46,322.33 531.83,322.76 532.19,322.97 532.55,323.09 532.92,323.05 533.28,322.79 533.64,321.73 534.01,319.8 534.37,317.65 534.73,315.93 535.1,314.87 535.46,314.03 535.82,313.09 536.19,311.75 536.55,309.25 536.91,305.45 537.28,300.94 537.64,296.33 538,291.34 538.37,285.72 538.73,280.1 539.09,275.07 539.46,270.8 539.82,266.91 540.18,263.16 540.55,259.33 540.91,255.4 541.27,251.47 541.64,247.53 542,243.6 542,324.8 541.64,325.06 541.27,325.31 540.91,325.57 540.55,325.82 540.18,326.07 539.82,326.31 539.46,326.56 539.09,326.84 538.73,327.17 538.37,327.54 538,327.91 537.64,328.22 537.28,328.51 536.91,328.77 536.55,329 536.19,329.15 535.82,329.27 535.46,329.37 535.1,329.44 534.73,329.43 534.37,329.09 534.01,328.46 533.64,327.94 533.28,327.94 532.92,328.48 532.55,329.18 532.19,329.83 531.83,330.24 531.46,330.31 531.1,330.15 530.74,329.94 530.37,329.84 530.01,329.96 529.65,330.22 529.28,330.46 528.92,330.51 528.56,330.27 528.19,329.86 527.83,329.44 527.47,329.18 527.1,329.01 526.74,328.79 526.38,328.62 526.01,328.6 525.65,329.81 525.29,332.34 524.92,334.85 524.56,335.99 524.2,334.87 523.83,332.38 523.47,329.86 523.11,328.63 522.74,328.51 522.38,328.48 522.02,328.54 521.65,328.71 521.29,329.33 520.93,330.41 520.56,331.42 520.2,331.87 519.84,331.59 519.47,330.93 519.11,330.15 518.75,329.52 518.38,329 518.02,328.46 517.66,328.03 517.29,327.85 516.93,328.03 516.57,328.46 516.2,329 515.84,329.5 515.48,330.48 515.11,332.09 514.75,333.59 514.39,334.25 514.02,333.34 513.66,331.34 513.3,329.34 512.93,328.43 512.57,328.61 512.21,329.02 511.84,329.43 511.48,329.62 511.12,329.49 510.75,329.2 510.39,328.94 510.03,328.88 509.66,329.1 509.3,329.49 508.94,329.93 508.57,330.32 508.21,330.17 507.85,329.33 507.48,328.26 507.12,327.4 506.76,326.88 506.39,326.47 506.03,326.07 505.67,325.57 505.3,324.89 504.94,324.08 504.58,323.26 504.21,322.56 503.85,322.01 503.49,321.54 503.12,321.08 502.76,320.6 502.4,319.97 502.03,319.25 501.67,318.67 501.31,318.42 500.94,318.66 500.58,319.22 500.22,319.91 499.85,320.52 499.49,320.99 499.13,321.42 498.76,321.88 498.4,322.4 498.04,323.08 497.67,323.89 497.31,324.68 496.95,325.34 496.58,325.8 496.22,326.16 495.86,326.55 495.49,327.09 495.13,327.98 494.77,329.06 494.4,329.98 494.04,330.36 493.68,330.68 493.31,331.38 492.95,332.08 492.59,332.4 492.22,331.82 491.86,330.56 491.5,329.28 491.13,328.69 490.77,328.61 490.41,328.47 490.04,328.35 489.68,328.29 489.32,328.49 488.95,328.95 488.59,329.4 488.23,329.6 487.86,329.38 487.5,328.87 487.14,328.33 486.77,328.04 486.41,329.04 486.05,331.36 485.68,333.7 485.32,334.76 484.96,334.51 484.59,333.87 484.23,333.04 483.87,332.2 483.5,331.15 483.14,329.86 482.78,328.75 482.41,328.29 482.05,328.32 481.69,328.38 481.32,328.42 480.96,328.38 480.6,328.12 480.23,327.69 479.87,327.25 479.51,327 479.14,326.92 478.78,326.85 478.42,326.81 478.05,326.79 477.69,327.53 477.33,329.17 476.96,330.82 476.6,331.6 476.24,331.4 475.87,330.83 475.51,330.11 475.15,329.47 474.78,329.27 474.42,329.56 474.06,330.07 473.69,330.52 473.33,330.9 472.97,331.35 472.6,331.83 472.24,332.3 471.88,332.76 471.51,333.23 471.15,333.68 470.79,334.1 470.42,334.55 470.06,335.02 469.7,335.38 469.33,335.53 468.97,335.37 468.61,334.98 468.24,334.48 467.88,334 467.52,333.56 467.15,333.08 466.79,332.59 466.43,332.1 466.06,331.57 465.7,330.99 465.34,330.5 464.97,330.22 464.61,330.01 464.25,329.78 463.88,329.74 463.52,330.1 463.16,331.02 462.79,332.23 462.43,333.28 462.07,333.73 461.7,332.93 461.34,331.16 460.98,329.33 460.61,328.33 460.25,328.07 459.89,327.86 459.52,327.7 459.16,327.65 458.8,327.72 458.43,327.9 458.07,328.15 457.71,328.41 457.34,329.39 456.98,331.22 456.62,332.98 456.25,333.78 455.89,332.65 455.53,330.17 455.16,327.7 454.8,326.57 454.44,327.48 454.07,329.48 453.71,331.49 453.35,332.4 452.98,331.66 452.62,330.02 452.26,328.38 451.89,327.64 451.53,327.73 451.17,327.93 450.8,328.16 450.44,328.3 450.08,328.28 449.71,328.14 449.35,327.98 448.99,327.89 448.62,327.93 448.26,328.04 447.9,328.19 447.53,328.34 447.17,328.5 446.81,328.69 446.44,328.91 446.08,329.13 445.72,329.39 445.35,329.67 444.99,329.96 444.63,330.2 444.26,330.43 443.9,330.65 443.54,330.82 443.17,330.89 442.81,330.81 442.45,330.6 442.08,330.34 441.72,330.07 441.36,329.8 440.99,329.48 440.63,329.16 440.27,328.87 439.9,328.62 439.54,328.37 439.18,328.15 438.81,327.95 438.45,327.68 438.09,327.35 437.72,327.18 437.36,327.38 437,328.86 436.63,331.53 436.27,334.09 435.91,335.24 435.54,335.18 435.18,335.03 434.82,334.8 434.45,334.49 434.09,333.22 433.73,330.84 433.36,328.5 433,327.36 432.64,327.2 432.27,327.01 431.91,326.83 431.55,326.68 431.18,326.61 430.82,326.62 430.46,326.68 430.09,326.71 429.73,326.73 429.37,326.75 429,326.78 428.64,326.82 428.28,326.9 427.91,327.03 427.55,327.17 427.19,327.26 426.82,327.32 426.46,327.37 426.1,327.4 425.73,327.41 425.37,327.36 425.01,327.24 424.64,327.13 424.28,327.11 423.92,327.41 423.55,328 423.19,328.51 422.83,328.61 422.46,328.13 422.1,327.38 421.74,326.65 421.37,326.25 421.01,326.1 420.65,325.98 420.28,325.94 419.92,326.06 419.56,327.47 419.19,330.29 418.83,333.05 418.47,334.3 418.1,334 417.74,333.29 417.38,332.41 417.01,331.62 416.65,330.23 416.29,328.05 415.92,326.03 415.56,325.15 415.2,325.05 414.83,324.86 414.47,324.72 414.11,324.77 413.74,325.04 413.38,325.41 413.02,325.83 412.65,326.22 412.29,327.2 411.93,328.89 411.56,330.51 411.2,331.22 410.84,330.63 410.47,329.26 410.11,327.67 409.75,326.46 409.38,326.1 409.02,326.38 408.66,326.86 408.29,327.12 407.93,327.04 407.57,326.82 407.2,326.54 406.84,326.27 406.48,325.91 406.11,325.44 405.75,325.1 405.39,325.1 405.02,326.32 404.66,328.67 404.3,330.98 403.93,332.06 403.57,331.04 403.21,328.72 402.84,326.38 402.48,325.32 402.12,326.24 401.75,328.27 401.39,330.31 401.03,331.23 400.66,330.23 400.3,328.02 399.94,325.82 399.57,324.81 399.21,325.11 398.85,325.83 398.48,326.67 398.12,327.37 397.76,327.94 397.39,328.52 397.03,328.97 396.67,329.15 396.3,328.97 395.94,328.49 395.58,327.84 395.21,327.15 394.85,326.12 394.49,324.74 394.12,323.53 393.76,323.01 393.4,324.58 393.03,328.03 392.67,331.49 392.31,333.06 391.94,333.05 391.58,333.01 391.22,332.86 390.85,332.54 390.49,332 390.13,331.31 389.76,330.54 389.4,329.79 389.04,328.45 388.67,326.43 388.31,324.58 387.95,323.77 387.58,324.07 387.22,324.79 386.86,325.63 386.49,326.31 386.13,326.86 385.77,327.4 385.4,327.83 385.04,327.99 384.68,327.59 384.31,326.76 383.95,326.06 383.59,326.05 383.22,327.06 382.86,328.61 382.5,330.08 382.13,330.87 381.77,331.06 381.41,331.18 381.04,331.27 380.68,331.39 380.32,331.69 379.95,332.17 379.59,332.61 379.23,332.77 378.86,331.13 378.5,327.59 378.14,324.06 377.77,322.46 377.41,322.59 377.05,322.9 376.68,323.32 376.32,323.74 375.96,325.32 375.59,328.25 375.23,331.06 374.87,332.28 374.5,332.06 374.14,331.67 373.78,331.25 373.41,330.96 373.05,330.82 372.69,330.69 372.32,330.49 371.96,330.15 371.6,328.56 371.23,325.61 370.87,322.78 370.51,321.51 370.14,322.3 369.78,324.17 369.42,326.35 369.05,328.07 368.69,329.39 368.33,330.68 367.96,331.66 367.6,332.05 367.24,331.6 366.87,330.48 366.51,329.07 366.15,327.73 365.78,326.33 365.42,324.74 365.06,323.34 364.69,322.49 364.33,322.09 363.97,321.79 363.6,321.6 363.24,321.54 362.88,321.57 362.51,321.61 362.15,321.61 361.79,321.5 361.42,321.02 361.06,320.21 360.7,319.41 360.33,318.98 359.97,318.95 359.61,319.08 359.24,319.38 358.88,319.83 358.52,321.51 358.15,324.51 357.79,327.38 357.43,328.66 357.06,327.37 356.7,324.52 356.34,321.62 355.97,320.18 355.61,320.08 355.25,320.11 354.88,320.19 354.52,320.2 354.16,320.1 353.79,319.93 353.43,319.72 353.07,319.55 352.7,319.38 352.34,319.22 351.98,319.13 351.61,319.17 351.25,320.38 350.89,322.87 350.52,325.33 350.16,326.45 349.8,325.08 349.43,322.05 349.07,319.04 348.71,317.69 348.34,319.59 347.98,323.7 347.62,327.79 347.25,329.65 346.89,328.78 346.53,326.85 346.16,324.86 345.8,323.84 345.44,324.25 345.07,325.4 344.71,326.6 344.35,327.12 343.98,326.48 343.62,325.13 343.26,323.78 342.89,323.13 342.53,323.03 342.17,322.86 341.8,322.65 341.44,322.42 341.08,323.04 340.71,324.77 340.35,326.78 339.99,328.2 339.62,329.06 339.26,329.83 338.9,330.39 338.53,330.6 338.17,330.33 337.81,329.61 337.44,328.65 337.08,327.6 336.72,326.01 336.35,323.86 335.99,321.98 335.63,321.21 335.26,321.43 334.9,321.92 334.54,322.58 334.17,323.29 333.81,324.38 333.45,325.85 333.08,327.15 332.72,327.7 332.36,327.19 331.99,325.91 331.63,324.25 331.27,322.6 330.9,320.6 330.54,318.2 330.18,316.19 329.81,315.34 329.45,315.53 329.09,316 328.72,316.55 328.36,317 328,317.37 327.63,317.74 327.27,318.02 326.91,318.13 326.54,317.88 326.18,317.31 325.82,316.66 325.45,316.2 325.09,315.93 324.73,315.72 324.36,315.58 324,315.52" fill="#0072bd" fill-opacity="0.2"/>
<polyline points="324,307.98 324.36,307.71 324.73,307.44 325.09,307.17 325.45,306.92 325.82,306.62 326.18,306.31 326.54,306.05 326.91,305.95 327.27,306.13 327.63,306.57 328,307.15 328.36,307.74 328.72,308.48 329.09,309.41 329.45,310.2 329.81,310.54 330.18,310.44 330.54,310.22 330.9,309.98 331.27,309.85 331.63,309.8 331.99,309.76 332.36,309.73 332.72,309.72 333.08,309.85 333.45,310.14 333.81,310.43 334.17,310.56 334.54,310.55 334.9,310.52 335.26,310.48 335.63,310.43 335.99,310.23 336.35,309.86 336.72,309.48 337.08,309.22 337.44,309.08 337.81,308.96 338.17,308.88 338.53,308.85 338.9,308.95 339.26,309.19 339.62,309.5 339.99,309.84 340.35,310.25 340.71,310.77 341.08,311.29 341.44,311.67 341.8,311.95 342.17,312.2 342.53,312.39 342.89,312.5 343.26,312.54 343.62,312.56 343.98,312.58 344.35,312.62 344.71,312.71 345.07,312.84 345.44,313.02 345.8,313.22 346.16,313.53 346.53,313.97 346.89,314.35 347.25,314.52 347.62,314.46 347.98,314.34 348.34,314.2 348.71,314.1 349.07,314.05 349.43,314.01 349.8,313.98 350.16,313.96 350.52,313.95 350.89,313.94 351.25,313.93 351.61,313.93 351.98,314.01 352.34,314.18 352.7,314.4 353.07,314.58 353.43,314.75 353.79,314.93 354.16,315.07 354.52,315.12 354.88,315.05 355.25,314.9 355.61,314.75 355.97,314.68 356.34,314.89 356.7,315.36 357.06,315.83 357.43,316.05 357.79,315.89 358.15,315.54 358.52,315.19 358.88,315.03 359.24,315.06 359.61,315.15 359.97,315.28 360.33,315.4 360.7,315.55 361.06,315.73 361.42,315.92 361.79,316.11 362.15,316.34 362.51,316.6 362.88,316.82 363.24,316.91 363.6,316.88 363.97,316.84 364.33,316.79 364.69,316.77 365.06,316.81 365.42,316.9 365.78,317.03 366.15,317.14 366.51,317.26 366.87,317.39 367.24,317.51 367.6,317.55 367.96,317.54 368.33,317.52 368.69,317.51 369.05,317.5 369.42,317.53 369.78,317.6 370.14,317.66 370.51,317.69 370.87,317.66 371.23,317.58 371.6,317.48 371.96,317.39 372.32,317.29 372.69,317.18 373.05,317.09 373.41,317.05 373.78,317.16 374.14,317.43 374.5,317.71 374.87,317.88 375.23,317.95 375.59,318.01 375.96,318.04 376.32,318.06 376.68,318 377.05,317.86 377.41,317.72 377.77,317.66 378.14,317.67 378.5,317.69 378.86,317.73 379.23,317.78 379.59,317.95 379.95,318.25 380.32,318.55 380.68,318.68 381.04,318.67 381.41,318.62 381.77,318.56 382.13,318.47 382.5,318.1 382.86,317.37 383.22,316.54 383.59,315.85 383.95,315.27 384.31,314.69 384.68,314.25 385.04,314.07 385.4,314.28 385.77,314.8 386.13,315.47 386.49,316.12 386.86,316.9 387.22,317.83 387.58,318.62 387.95,318.95 388.31,318.93 388.67,318.87 389.04,318.82 389.4,318.8 389.76,318.94 390.13,319.25 390.49,319.56 390.85,319.7 391.22,319.54 391.58,319.17 391.94,318.81 392.31,318.64 392.67,318.8 393.03,319.15 393.4,319.5 393.76,319.66 394.12,319.4 394.49,318.79 394.85,318.07 395.21,317.49 395.58,317.04 395.94,316.59 396.3,316.24 396.67,316.1 397.03,316.27 397.39,316.67 397.76,317.2 398.12,317.73 398.48,318.37 398.85,319.16 399.21,319.83 399.57,320.11 399.94,320.06 400.3,319.94 400.66,319.82 401.03,319.77 401.39,319.93 401.75,320.27 402.12,320.62 402.48,320.77 402.84,320.76 403.21,320.72 403.57,320.66 403.93,320.6 404.3,320.52 404.66,320.4 405.02,320.24 405.39,320.03 405.75,319.5 406.11,318.58 406.48,317.54 406.84,316.64 407.2,315.83 407.57,314.99 407.93,314.34 408.29,314.07 408.66,314.35 409.02,315.04 409.38,315.95 409.75,316.85 410.11,317.96 410.47,319.33 410.84,320.5 411.2,320.99 411.56,320.99 411.93,320.98 412.29,320.97 412.65,320.96 413.02,320.85 413.38,320.62 413.74,320.39 414.11,320.29 414.47,320.46 414.83,320.85 415.2,321.24 415.56,321.41 415.92,321.29 416.29,321.04 416.65,320.78 417.01,320.66 417.38,320.82 417.74,321.18 418.1,321.53 418.47,321.69 418.83,321.57 419.19,321.28 419.56,320.93 419.92,320.65 420.28,320.45 420.65,320.28 421.01,320.1 421.37,319.89 421.74,319.64 422.1,319.36 422.46,319.01 422.83,318.57 423.19,317.78 423.55,316.64 423.92,315.48 424.28,314.62 424.64,314.02 425.01,313.47 425.37,313.07 425.73,312.91 426.1,313.08 426.46,313.53 426.82,314.13 427.19,314.79 427.55,315.69 427.91,316.9 428.28,318.08 428.64,318.91 429,319.4 429.37,319.79 429.73,320.11 430.09,320.4 430.46,320.66 430.82,320.89 431.18,321.11 431.55,321.33 431.91,321.58 432.27,321.85 432.64,322.1 433,322.29 433.36,322.45 433.73,322.59 434.09,322.69 434.45,322.74 434.82,322.75 435.18,322.77 435.54,322.77 435.91,322.77 436.27,322.54 436.63,321.98 437,321.3 437.36,320.73 437.72,320.31 438.09,319.93 438.45,319.54 438.81,319.07 439.18,318.49 439.54,317.81 439.9,317.06 440.27,316.27 440.63,315.37 440.99,314.36 441.36,313.36 441.72,312.5 442.08,311.69 442.45,310.88 442.81,310.26 443.17,310.01 443.54,310.28 443.9,310.93 444.26,311.79 444.63,312.64 444.99,313.54 445.35,314.57 445.72,315.62 446.08,316.56 446.44,317.39 446.81,318.17 447.17,318.89 447.53,319.51 447.9,320.01 448.26,320.45 448.62,320.87 448.99,321.3 449.35,321.86 449.71,322.49 450.08,323 450.44,323.21 450.8,323.13 451.17,322.96 451.53,322.79 451.89,322.71 452.26,322.81 452.62,323.02 452.98,323.23 453.35,323.33 453.71,323.33 454.07,323.33 454.44,323.33 454.8,323.33 455.16,323.27 455.53,323.16 455.89,323.04 456.25,322.99 456.62,323.04 456.98,323.15 457.34,323.26 457.71,323.31 458.07,323.28 458.43,323.21 458.8,323.14 459.16,323.1 459.52,323.14 459.89,323.22 460.25,323.33 460.61,323.45 460.98,323.6 461.34,323.79 461.7,323.96 462.07,324.03 462.43,323.72 462.79,322.97 463.16,322.06 463.52,321.28 463.88,320.7 464.25,320.17 464.61,319.61 464.97,318.96 465.34,318.13 465.7,317.14 466.06,316.09 466.43,315.06 466.79,314.06 467.15,313.04 467.52,312.05 467.88,311.12 468.24,310.14 468.61,309.12 468.97,308.31 469.33,307.98 469.7,308.32 470.06,309.16 470.42,310.22 470.79,311.24 471.15,312.19 471.51,313.21 471.88,314.26 472.24,315.29 472.6,316.35 472.97,317.43 473.33,318.45 473.69,319.31 474.06,320.01 474.42,320.61 474.78,321.17 475.15,321.74 475.51,322.42 475.87,323.15 476.24,323.74 476.6,323.98 476.96,323.95 477.33,323.9 477.69,323.85 478.05,323.83 478.42,323.83 478.78,323.84 479.14,323.85 479.51,323.86 479.87,323.9 480.23,323.95 480.6,324.03 480.96,324.13 481.32,324.3 481.69,324.55 482.05,324.78 482.41,324.88 482.78,324.8 483.14,324.59 483.5,324.36 483.87,324.18 484.23,324.04 484.59,323.91 484.96,323.81 485.32,323.77 485.68,323.78 486.05,323.82 486.41,323.88 486.77,323.96 487.14,324.2 487.5,324.63 487.86,325.04 488.23,325.22 488.59,325.1 488.95,324.84 489.32,324.58 489.68,324.46 490.04,324.51 490.41,324.63 490.77,324.75 491.13,324.81 491.5,324.76 491.86,324.67 492.22,324.57 492.59,324.53 492.95,324.63 493.31,324.86 493.68,325.09 494.04,325.19 494.4,324.7 494.77,323.49 495.13,322.03 495.49,320.74 495.86,319.76 496.22,318.85 496.58,317.89 496.95,316.76 497.31,315.26 497.67,313.45 498.04,311.63 498.4,310.08 498.76,308.89 499.13,307.85 499.49,306.85 499.85,305.79 500.22,304.41 500.58,302.84 500.94,301.56 501.31,301.02 501.67,301.57 502.03,302.88 502.4,304.48 502.76,305.89 503.12,306.97 503.49,307.99 503.85,309.05 504.21,310.27 504.58,311.84 504.94,313.68 505.3,315.51 505.67,317.04 506.03,318.19 506.39,319.18 506.76,320.11 507.12,321.12 507.48,322.42 507.85,323.91 508.21,325.13 508.57,325.63 508.94,325.61 509.3,325.54 509.66,325.45 510.03,325.35 510.39,325.17 510.75,324.91 511.12,324.67 511.48,324.57 511.84,324.71 512.21,325.03 512.57,325.35 512.93,325.5 513.3,325.41 513.66,325.23 514.02,325.04 514.39,324.96 514.75,325.03 515.11,325.19 515.48,325.35 515.84,325.42 516.2,325.32 516.57,325.11 516.93,324.9 517.29,324.81 517.66,324.81 518.02,324.83 518.38,324.85 518.75,324.88 519.11,324.98 519.47,325.16 519.84,325.32 520.2,325.4 520.56,325.35 520.93,325.26 521.29,325.17 521.65,325.13 522.02,325.18 522.38,325.29 522.74,325.45 523.11,325.6 523.47,325.8 523.83,326.05 524.2,326.27 524.56,326.36 524.92,326.34 525.29,326.28 525.65,326.21 526.01,326.13 526.38,325.98 526.74,325.77 527.1,325.58 527.47,325.49 527.83,325.65 528.19,326 528.56,326.35 528.92,326.51 529.28,326.32 529.65,325.92 530.01,325.52 530.37,325.34 530.74,325.52 531.1,325.92 531.46,326.32 531.83,326.5 532.19,326.4 532.55,326.13 532.92,325.77 533.28,325.36 533.64,324.84 534.01,324.13 534.37,323.37 534.73,322.68 535.1,322.16 535.46,321.7 535.82,321.18 536.19,320.45 536.55,319.13 536.91,317.11 537.28,314.72 537.64,312.28 538,309.62 538.37,306.63 538.73,303.63 539.09,300.95 539.46,298.68 539.82,296.61 540.18,294.61 540.55,292.58 540.91,290.48 541.27,288.39 541.64,286.29 542,284.2" fill="none" stroke="#2a90c2" stroke-width="1.05" stroke-linejoin="round"/>
<polyline points="324,312.32 327.63,313.38 331.27,314.34 334.9,315.22 338.53,316.03 342.17,316.78 345.8,317.47 349.43,318.11 353.07,318.71 356.7,319.27 360.33,319.79 363.97,320.28 367.6,320.74 371.23,321.18 374.87,321.59 378.5,321.98 382.13,322.35 385.77,322.69 389.4,323.03 393.03,323.34 396.67,323.65 400.3,323.94 403.93,324.21 407.57,324.48 411.2,324.73 414.83,324.97 418.47,325.21 422.1,325.43 425.73,325.65 429.37,325.86 433,326.06 436.63,326.25 440.27,326.44 443.9,326.62 447.53,326.8 451.17,326.97 454.8,327.13 458.43,327.29 462.07,327.45 465.7,327.6 469.33,327.75 472.97,327.89 476.6,328.03 480.23,328.16 483.87,328.3 487.5,328.42 491.13,328.55 494.77,328.67 498.4,328.79 502.03,328.91 505.67,329.02 509.3,329.13 512.93,329.24 516.57,329.35 520.2,329.46 523.83,329.56 527.47,329.66 531.1,329.76 534.73,329.85 538.37,329.95 542,330.04" fill="none" stroke="#ff4d47" stroke-width="1.2" stroke-dasharray="1.8 2.3"/>
<path d="M326.91 266.75v1M326.91 270.5v1M326.91 272.25v1M326.91 279.75v1M326.91 282.75v1M326.91 284.25v1M326.91 286.25v1M326.91 287.75v1.5M326.91 289.75v1M326.91 293v1M326.91 296.75v1.75M326.91 298.75v10.75M326.91 310v5.25M326.91 315.5v3.5M326.91 319.75v1.5M326.91 321.75v1.5M326.91 323.5v3M326.91 327.75v1M326.91 331.25v1M326.91 333v1M332.72 303.5v7.25M332.72 311.25v3.5M332.72 315.25v1.5M332.72 317.25v1.5M338.53 266.75v1M338.53 268v1M338.53 269.5v1M338.53 272.25v1.5M338.53 277.25v1M338.53 281.25v1.75M338.53 283.5v1M338.53 285.75v1.25M338.53 287.5v1M338.53 290.75v1M338.53 292.25v1.5M338.53 300.5v2M338.53 302.75v1M338.53 304v12.25M338.53 316.75v1M338.53 319.25v3M338.53 323v1.75M338.53 328.5v1.75M338.53 331.5v2.5M344.35 301.5v1M344.35 303.5v3.5M344.35 307.5v1.25M344.35 310.5v2.5M344.35 313.75v5.25M344.35 319.5v4M344.35 325v1M344.35 327.5v1.5M344.35 331.25v1.25M350.16 306.75v1M350.16 308.25v7.25M350.16 315.75v6.75M350.16 323v1.5M350.16 324.75v1M355.97 305.5v1.5M355.97 307.5v5M355.97 312.75v3.5M355.97 316.75v4.75M355.97 322.25v3.75M355.97 326.25v1M355.97 327.75v2M361.79 303.5v11.5M361.79 315.75v8.5M361.79 324.5v1M361.79 326v1M361.79 328v1M361.79 330.5v1M361.79 332.5v1M367.6 266.75v1M367.6 268.5v1.75M367.6 271.25v1M367.6 277.25v1M367.6 278.5v1M367.6 280.5v1M367.6 283v2M367.6 287v1M367.6 289.75v3M367.6 295v1M367.6 300.5v1.25M367.6 302.25v1M367.6 303.75v1M367.6 305v7.5M367.6 312.75v3M367.6 316v6.5M367.6 324v2.5M367.6 326.75v5.75M367.6 333v1M373.41 305.5v4M373.41 309.75v6.75M373.41 317.5v1M373.41 319.75v3M373.41 323.5v1M373.41 324.75v4.75M373.41 330.75v1M373.41 332.25v1.75M379.23 311.5v2M379.23 314v6.5M379.23 321v7M379.23 329.5v2.25M385.04 267.75v1M385.04 271.25v1M385.04 273v1M385.04 278.25v1M385.04 279.5v1M385.04 282.5v1.5M385.04 285v1M385.04 288.75v1.25M385.04 294.75v1M385.04 296.75v1M385.04 298.25v1.25M385.04 301.25v1M385.04 303.5v5M385.04 308.75v12M385.04 321.25v3.75M385.04 325.25v3.25M385.04 328.75v1.75M385.04 331v1M385.04 332.5v1M390.85 312.5v7M390.85 320v6.5M390.85 326.75v3M396.67 267.5v1.25M396.67 272.25v1M396.67 277.25v1M396.67 283.5v2.5M396.67 286.75v1M396.67 288.5v1M396.67 289.75v1.25M396.67 293.5v1M396.67 297.75v1M396.67 301.25v2M396.67 304.25v1M396.67 305.5v2M396.67 308.25v2.5M396.67 311v4.25M396.67 315.5v3.5M396.67 319.25v8.5M396.67 329v1.75M396.67 331v2.5M402.48 313.5v7.25M402.48 321.25v1M402.48 322.75v4M402.48 327.25v2.5M402.48 330.75v1M408.29 289.5v1M408.29 293.25v1M408.29 296.5v1.75M408.29 298.75v1.25M408.29 300.25v1.25M408.29 303v2M408.29 306.5v1M408.29 308.75v6M408.29 315.25v2.75M408.29 319v4M408.29 323.25v5M408.29 328.5v2.75M408.29 331.5v2.5M414.11 312.5v1.75M414.11 315v6.75M414.11 322.75v6M414.11 329.25v2.5M419.92 310.5v4M419.92 314.75v1.25M419.92 317.75v11.5M419.92 329.5v4M425.73 263.25v1M425.73 266.75v2M425.73 271.5v1.75M425.73 273.5v2.25M425.73 277.75v1M425.73 281v1M425.73 283v1.5M425.73 285.25v1.5M425.73 290.5v1M425.73 294.5v1M425.73 297.5v1.75M425.73 304v1.75M425.73 306.25v2.25M425.73 309.25v1.25M425.73 311.5v5.75M425.73 317.5v1.75M425.73 319.5v1M425.73 320.75v12.75M431.55 311.5v1.75M431.55 313.5v2.25M431.55 316.75v10.75M431.55 327.75v1.5M431.55 329.75v2.75M437.36 313.5v1M437.36 315v2M437.36 318v6.75M437.36 325v3M437.36 328.25v2.25M437.36 331v1.25M437.36 332.5v1M443.17 278.5v1.5M443.17 283.25v1M443.17 286.25v1M443.17 287.75v1.25M443.17 291.25v1M443.17 292.75v2.25M443.17 298.75v1.5M443.17 301.25v1M443.17 304.75v1.5M443.17 310.75v5.25M443.17 317.25v7.5M443.17 325.25v6.75M443.17 332.25v1.25M448.99 305.5v1M448.99 309v3.5M448.99 313v2.5M448.99 315.75v1.25M448.99 317.25v5.5M448.99 323.5v10M454.8 315.75v15M454.8 331v1.5M460.61 312.5v3.25M460.61 316.25v5.5M460.61 322v3.25M460.61 326.25v4M460.61 331v1.5M466.43 288.75v1M466.43 290v1M466.43 291.25v1M466.43 292.5v2M466.43 294.75v2.25M466.43 301.25v2M466.43 311.25v1M466.43 313.25v1.5M466.43 315v6.5M466.43 321.75v2.5M466.43 324.5v9.5M472.24 295.75v1M472.24 297.75v1.25M472.24 299.5v1.75M472.24 304v1M472.24 305.5v1M472.24 307v1.5M472.24 309.75v1M472.24 311.25v12.75M472.24 324.25v2.75M472.24 327.75v3.5M472.24 331.75v1.75M478.05 314.5v1.25M478.05 316.25v1.25M478.05 317.75v3M478.05 321v2.25M478.05 323.5v9M483.87 316.5v7.75M483.87 324.75v6.25M483.87 331.5v1M489.68 314.5v1.75M489.68 317.25v7.25M489.68 325v1.25M489.68 326.75v5.75M495.49 296.5v2M495.49 299.25v1.75M495.49 307.5v2.75M495.49 312.25v7.5M495.49 320.25v6.5M495.49 328v3M495.49 331.75v1.75M501.31 243.5v1M501.31 247.25v1M501.31 251.5v1M501.31 264v1M501.31 265.5v1.75M501.31 268.75v2M501.31 272.5v1M501.31 274.5v2M501.31 278.75v1M501.31 282.5v1M501.31 284v1.5M501.31 289.25v1M501.31 291.75v3.5M501.31 296.25v1M501.31 297.5v1M501.31 303v1M501.31 305v1M501.31 306.5v2M501.31 308.75v1.25M501.31 310.25v1M501.31 312.5v15.25M501.31 328.25v5.25M507.12 305.5v1M507.12 308.75v3.25M507.12 313v6.75M507.12 320.75v4.75M507.12 327.5v1.75M507.12 329.5v4M512.93 316.5v4.25M512.93 321v11.5M518.75 317.75v2.5M518.75 320.5v9.5M518.75 330.75v1.75M524.56 315.75v1M524.56 317v3.5M524.56 320.75v1.75M524.56 322.75v5M524.56 328v4.5M530.37 312.5v7M530.37 320.5v5.25M530.37 327.5v2M530.37 329.75v3.75M536.19 295.75v1.75M536.19 305.5v1.25M536.19 308.25v1M536.19 310.5v1.75M536.19 312.75v5.75M536.19 318.75v9.25M536.19 328.5v3.5M536.19 332.5v1.25M542 201.25v2.25M542 208v1.75M542 211.5v1M542 218v1M542 219.5v1M542 222.75v1.5M542 224.5v1.5M542 230v1M542 235.75v1M542 237.5v1M542 238.75v2M542 246.5v1M542 248v1M542 249.75v1.25M542 251.5v3.5M542 255.25v3M542 259v1M542 260.5v1M542 262v1M542 264.75v1.5M542 267v8.5M542 275.75v9M542 285.25v1.75M542 287.75v2.25M542 290.5v3.5M542 294.25v5M542 299.75v1.5M542 301.5v2.5M542 304.25v1M542 307v1M542 308.75v1.25M542 311.75v2M542 314v12.5M542 326.75v6.75" stroke="#0c0cff" stroke-width="1.3" fill="none" opacity="0.92" clip-path="url(#c4)"/>
<g font-size="7" fill="#363636" stroke="#363636" stroke-width="0.13"><text x="321.2" y="336" text-anchor="end">0</text><text x="321.2" y="307" text-anchor="end">1</text><text x="321.2" y="278" text-anchor="end">2</text><text x="321.2" y="249" text-anchor="end">3</text><text x="321.2" y="220" text-anchor="end">4</text><text x="324" y="350.2" text-anchor="middle">0.5</text><text x="396.67" y="350.2" text-anchor="middle">1</text><text x="469.33" y="350.2" text-anchor="middle">1.5</text><text x="542" y="350.2" text-anchor="middle">2</text><text x="543" y="361.6" text-anchor="end">×<tspan dx="0.9">10</tspan><tspan dy="-3" font-size="5.2">4</tspan></text></g><g font-size="7.85" fill="#363636" stroke="#363636" stroke-width="0.13" text-anchor="middle"><text x="433" y="361">Range (m)</text><text transform="translate(314.1 270.25) rotate(-90)">Elavation angle (deg.)</text></g><text x="433" y="197.3" font-size="7.65" font-weight="bold" fill="#000" stroke="#000" stroke-width="0.2" text-anchor="middle">PS-GMUSIC</text><rect x="473.25" y="204.1" width="64" height="33.2" fill="#fff" stroke="#b4b4b4" stroke-width="0.7"/><rect x="475.45" y="206.3" width="13.8" height="5.8" fill="#cce3f2"/><path d="M475.45 217.3h13.8" stroke="#5aa5da" stroke-width="0.95"/><path d="M475.95 225.3h13.8" stroke="#ff6b66" stroke-width="1.4" stroke-dasharray="1.5 2.25"/><rect x="481.75" y="232.85" width="1" height="0.9" fill="#22f"/><g font-size="6.3" fill="#242424" stroke="#242424" stroke-width="0.16"><text transform="translate(491.35 211.55) scale(0.978 1)">± Std. deviation</text><text transform="translate(491.35 219.55) scale(0.978 1)">Average</text><text transform="translate(491.35 227.55) scale(0.978 1)">Ture angle</text><text transform="translate(491.35 235.55) scale(0.978 1)">Estimated angle</text></g>
</g>
<text x="279.5" y="380.6" font-family="'Liberation Serif', 'Times New Roman', serif" font-size="9.6" font-weight="bold" fill="#222" text-anchor="middle">(a)</text>
</svg>
</body></html>
